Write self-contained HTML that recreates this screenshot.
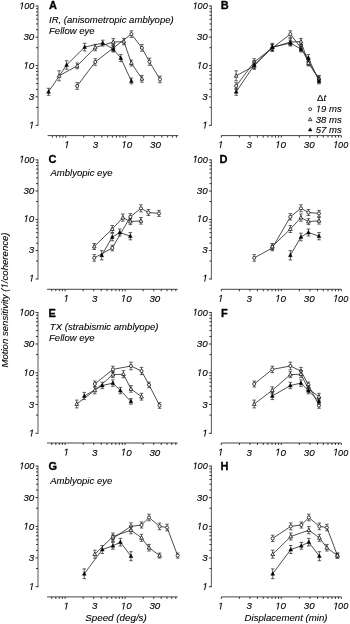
<!DOCTYPE html><html><head><meta charset="utf-8"><style>html,body{margin:0;padding:0;background:#fff}svg{display:block;will-change:transform}</style></head><body><svg width="350" height="624" viewBox="0 0 350 624">
<style>
.ax{stroke:#444;stroke-width:1;fill:none}
.axy{stroke:#666;stroke-width:1.1;fill:none}
.tk{stroke:#222;stroke-width:0.9}
.tl{font-family:"Liberation Sans",sans-serif;font-style:italic;font-size:9.8px;fill:#000;stroke:#000;stroke-width:0.1}
.tt{font-family:"Liberation Sans",sans-serif;font-style:italic;font-size:9.55px;fill:#000;stroke:#000;stroke-width:0.1}
.pl{font-family:"Liberation Sans",sans-serif;font-weight:bold;font-size:11px;fill:#000;stroke:#000;stroke-width:0.3}
.ln{stroke:#222;stroke-width:0.8;fill:none}
.eb{stroke:#222;stroke-width:0.7}
.mo{fill:#fff;stroke:#111;stroke-width:0.8}
.mf{fill:#000;stroke:#000;stroke-width:0.5}
.h1{fill:transparent;stroke:none}
.g1{fill:#000;stroke:#000;stroke-width:0.1;vector-effect:non-scaling-stroke}
</style>
<rect width="350" height="624" fill="#fff"/>
<line x1="38.0" y1="5.5" x2="38.0" y2="125.8" class="axy"/>
<line x1="35.5" y1="125.30" x2="38.0" y2="125.30" class="tk"/>
<line x1="36.0" y1="107.34" x2="38.0" y2="107.34" class="tk"/>
<line x1="35.5" y1="96.84" x2="38.0" y2="96.84" class="tk"/>
<line x1="36.0" y1="89.39" x2="38.0" y2="89.39" class="tk"/>
<line x1="36.0" y1="83.61" x2="38.0" y2="83.61" class="tk"/>
<line x1="36.0" y1="78.88" x2="38.0" y2="78.88" class="tk"/>
<line x1="36.0" y1="74.89" x2="38.0" y2="74.89" class="tk"/>
<line x1="36.0" y1="71.43" x2="38.0" y2="71.43" class="tk"/>
<line x1="36.0" y1="68.38" x2="38.0" y2="68.38" class="tk"/>
<line x1="35.5" y1="65.65" x2="38.0" y2="65.65" class="tk"/>
<line x1="36.0" y1="47.69" x2="38.0" y2="47.69" class="tk"/>
<line x1="35.5" y1="37.19" x2="38.0" y2="37.19" class="tk"/>
<line x1="36.0" y1="29.74" x2="38.0" y2="29.74" class="tk"/>
<line x1="36.0" y1="23.96" x2="38.0" y2="23.96" class="tk"/>
<line x1="36.0" y1="19.23" x2="38.0" y2="19.23" class="tk"/>
<line x1="36.0" y1="15.24" x2="38.0" y2="15.24" class="tk"/>
<line x1="36.0" y1="11.78" x2="38.0" y2="11.78" class="tk"/>
<line x1="36.0" y1="8.73" x2="38.0" y2="8.73" class="tk"/>
<line x1="35.5" y1="6.00" x2="38.0" y2="6.00" class="tk"/>
<text x="34.3" y="9.20" class="tl" text-anchor="end" textLength="15.2" lengthAdjust="spacingAndGlyphs"><tspan class="h1">1</tspan>00</text>
<text x="34.3" y="40.39" class="tl" text-anchor="end">30</text>
<text x="34.3" y="68.85" class="tl" text-anchor="end"><tspan class="h1">1</tspan>0</text>
<text x="34.3" y="100.04" class="tl" text-anchor="end">3</text>
<text x="34.3" y="128.50" class="tl" text-anchor="end"><tspan class="h1">1</tspan></text>
<line x1="211.4" y1="5.5" x2="211.4" y2="125.8" class="axy"/>
<line x1="208.9" y1="125.30" x2="211.4" y2="125.30" class="tk"/>
<line x1="209.4" y1="107.34" x2="211.4" y2="107.34" class="tk"/>
<line x1="208.9" y1="96.84" x2="211.4" y2="96.84" class="tk"/>
<line x1="209.4" y1="89.39" x2="211.4" y2="89.39" class="tk"/>
<line x1="209.4" y1="83.61" x2="211.4" y2="83.61" class="tk"/>
<line x1="209.4" y1="78.88" x2="211.4" y2="78.88" class="tk"/>
<line x1="209.4" y1="74.89" x2="211.4" y2="74.89" class="tk"/>
<line x1="209.4" y1="71.43" x2="211.4" y2="71.43" class="tk"/>
<line x1="209.4" y1="68.38" x2="211.4" y2="68.38" class="tk"/>
<line x1="208.9" y1="65.65" x2="211.4" y2="65.65" class="tk"/>
<line x1="209.4" y1="47.69" x2="211.4" y2="47.69" class="tk"/>
<line x1="208.9" y1="37.19" x2="211.4" y2="37.19" class="tk"/>
<line x1="209.4" y1="29.74" x2="211.4" y2="29.74" class="tk"/>
<line x1="209.4" y1="23.96" x2="211.4" y2="23.96" class="tk"/>
<line x1="209.4" y1="19.23" x2="211.4" y2="19.23" class="tk"/>
<line x1="209.4" y1="15.24" x2="211.4" y2="15.24" class="tk"/>
<line x1="209.4" y1="11.78" x2="211.4" y2="11.78" class="tk"/>
<line x1="209.4" y1="8.73" x2="211.4" y2="8.73" class="tk"/>
<line x1="208.9" y1="6.00" x2="211.4" y2="6.00" class="tk"/>
<text x="207.70000000000002" y="9.20" class="tl" text-anchor="end" textLength="15.2" lengthAdjust="spacingAndGlyphs"><tspan class="h1">1</tspan>00</text>
<text x="207.70000000000002" y="40.39" class="tl" text-anchor="end">30</text>
<text x="207.70000000000002" y="68.85" class="tl" text-anchor="end"><tspan class="h1">1</tspan>0</text>
<text x="207.70000000000002" y="100.04" class="tl" text-anchor="end">3</text>
<text x="207.70000000000002" y="128.50" class="tl" text-anchor="end"><tspan class="h1">1</tspan></text>
<line x1="47.64" y1="135.6" x2="178.20" y2="135.6" class="ax"/>
<line x1="52.39" y1="135.6" x2="52.39" y2="137.6" class="tk"/>
<line x1="56.41" y1="135.6" x2="56.41" y2="137.6" class="tk"/>
<line x1="59.89" y1="135.6" x2="59.89" y2="137.6" class="tk"/>
<line x1="62.95" y1="135.6" x2="62.95" y2="137.6" class="tk"/>
<line x1="65.70" y1="135.6" x2="65.70" y2="137.6" class="tk"/>
<line x1="83.76" y1="135.6" x2="83.76" y2="137.6" class="tk"/>
<line x1="94.33" y1="135.6" x2="94.33" y2="137.6" class="tk"/>
<line x1="101.82" y1="135.6" x2="101.82" y2="137.6" class="tk"/>
<line x1="107.64" y1="135.6" x2="107.64" y2="137.6" class="tk"/>
<line x1="112.39" y1="135.6" x2="112.39" y2="137.6" class="tk"/>
<line x1="116.41" y1="135.6" x2="116.41" y2="137.6" class="tk"/>
<line x1="119.89" y1="135.6" x2="119.89" y2="137.6" class="tk"/>
<line x1="122.95" y1="135.6" x2="122.95" y2="137.6" class="tk"/>
<line x1="125.70" y1="135.6" x2="125.70" y2="137.6" class="tk"/>
<line x1="143.76" y1="135.6" x2="143.76" y2="137.6" class="tk"/>
<line x1="154.33" y1="135.6" x2="154.33" y2="137.6" class="tk"/>
<line x1="161.82" y1="135.6" x2="161.82" y2="137.6" class="tk"/>
<line x1="167.64" y1="135.6" x2="167.64" y2="137.6" class="tk"/>
<line x1="172.39" y1="135.6" x2="172.39" y2="137.6" class="tk"/>
<line x1="176.41" y1="135.6" x2="176.41" y2="137.6" class="tk"/>
<text x="66.80" y="148.10" class="tl" text-anchor="middle"><tspan class="h1">1</tspan></text>
<text x="95.43" y="148.10" class="tl" text-anchor="middle">3</text>
<text x="126.80" y="148.10" class="tl" text-anchor="middle"><tspan class="h1">1</tspan>0</text>
<text x="155.43" y="148.10" class="tl" text-anchor="middle">30</text>
<line x1="221.30" y1="135.6" x2="341.30" y2="135.6" class="ax"/>
<line x1="221.30" y1="135.6" x2="221.30" y2="137.6" class="tk"/>
<line x1="239.36" y1="135.6" x2="239.36" y2="137.6" class="tk"/>
<line x1="249.93" y1="135.6" x2="249.93" y2="137.6" class="tk"/>
<line x1="257.42" y1="135.6" x2="257.42" y2="137.6" class="tk"/>
<line x1="263.24" y1="135.6" x2="263.24" y2="137.6" class="tk"/>
<line x1="267.99" y1="135.6" x2="267.99" y2="137.6" class="tk"/>
<line x1="272.01" y1="135.6" x2="272.01" y2="137.6" class="tk"/>
<line x1="275.49" y1="135.6" x2="275.49" y2="137.6" class="tk"/>
<line x1="278.55" y1="135.6" x2="278.55" y2="137.6" class="tk"/>
<line x1="281.30" y1="135.6" x2="281.30" y2="137.6" class="tk"/>
<line x1="299.36" y1="135.6" x2="299.36" y2="137.6" class="tk"/>
<line x1="309.93" y1="135.6" x2="309.93" y2="137.6" class="tk"/>
<line x1="317.42" y1="135.6" x2="317.42" y2="137.6" class="tk"/>
<line x1="323.24" y1="135.6" x2="323.24" y2="137.6" class="tk"/>
<line x1="327.99" y1="135.6" x2="327.99" y2="137.6" class="tk"/>
<line x1="332.01" y1="135.6" x2="332.01" y2="137.6" class="tk"/>
<line x1="335.49" y1="135.6" x2="335.49" y2="137.6" class="tk"/>
<line x1="338.55" y1="135.6" x2="338.55" y2="137.6" class="tk"/>
<line x1="341.30" y1="135.6" x2="341.30" y2="137.6" class="tk"/>
<text x="220.60" y="148.10" class="tl" text-anchor="middle"><tspan class="h1">1</tspan></text>
<text x="249.23" y="148.10" class="tl" text-anchor="middle">3</text>
<text x="280.60" y="148.10" class="tl" text-anchor="middle"><tspan class="h1">1</tspan>0</text>
<text x="309.23" y="148.10" class="tl" text-anchor="middle">30</text>
<text x="340.60" y="148.10" class="tl" text-anchor="middle" textLength="15.2" lengthAdjust="spacingAndGlyphs"><tspan class="h1">1</tspan>00</text>
<polyline points="48.54,91.80 66.60,65.00 84.66,47.10 102.72,43.10 113.29,49.00 120.78,58.10 131.35,81.00" class="ln"/>
<polyline points="59.10,75.80 77.16,65.90 95.23,47.50 113.29,42.00 123.85,41.60 131.35,63.00 141.91,78.80" class="ln"/>
<polyline points="77.16,86.00 95.23,62.00 113.29,48.00 131.35,34.10 141.91,47.90 149.41,61.70 159.98,79.40" class="ln"/>
<line x1="77.16" y1="82.70" x2="77.16" y2="89.30" class="eb"/>
<line x1="75.36" y1="82.70" x2="78.96" y2="82.70" class="eb"/>
<line x1="75.36" y1="89.30" x2="78.96" y2="89.30" class="eb"/>
<circle cx="77.16" cy="86.00" r="1.55" class="mo"/>
<line x1="95.23" y1="58.70" x2="95.23" y2="65.30" class="eb"/>
<line x1="93.43" y1="58.70" x2="97.03" y2="58.70" class="eb"/>
<line x1="93.43" y1="65.30" x2="97.03" y2="65.30" class="eb"/>
<circle cx="95.23" cy="62.00" r="1.55" class="mo"/>
<line x1="113.29" y1="44.70" x2="113.29" y2="51.30" class="eb"/>
<line x1="111.49" y1="44.70" x2="115.09" y2="44.70" class="eb"/>
<line x1="111.49" y1="51.30" x2="115.09" y2="51.30" class="eb"/>
<circle cx="113.29" cy="48.00" r="1.55" class="mo"/>
<line x1="131.35" y1="30.80" x2="131.35" y2="37.40" class="eb"/>
<line x1="129.55" y1="30.80" x2="133.15" y2="30.80" class="eb"/>
<line x1="129.55" y1="37.40" x2="133.15" y2="37.40" class="eb"/>
<circle cx="131.35" cy="34.10" r="1.55" class="mo"/>
<line x1="141.91" y1="44.60" x2="141.91" y2="51.20" class="eb"/>
<line x1="140.11" y1="44.60" x2="143.71" y2="44.60" class="eb"/>
<line x1="140.11" y1="51.20" x2="143.71" y2="51.20" class="eb"/>
<circle cx="141.91" cy="47.90" r="1.55" class="mo"/>
<line x1="149.41" y1="58.10" x2="149.41" y2="65.30" class="eb"/>
<line x1="147.61" y1="58.10" x2="151.21" y2="58.10" class="eb"/>
<line x1="147.61" y1="65.30" x2="151.21" y2="65.30" class="eb"/>
<circle cx="149.41" cy="61.70" r="1.55" class="mo"/>
<line x1="159.98" y1="76.10" x2="159.98" y2="82.70" class="eb"/>
<line x1="158.18" y1="76.10" x2="161.78" y2="76.10" class="eb"/>
<line x1="158.18" y1="82.70" x2="161.78" y2="82.70" class="eb"/>
<circle cx="159.98" cy="79.40" r="1.55" class="mo"/>
<line x1="59.10" y1="70.80" x2="59.10" y2="80.80" class="eb"/>
<line x1="57.30" y1="70.80" x2="60.90" y2="70.80" class="eb"/>
<line x1="57.30" y1="80.80" x2="60.90" y2="80.80" class="eb"/>
<polygon points="59.10,73.70 57.25,77.20 60.95,77.20" class="mo"/>
<line x1="77.16" y1="63.00" x2="77.16" y2="68.80" class="eb"/>
<line x1="75.36" y1="63.00" x2="78.96" y2="63.00" class="eb"/>
<line x1="75.36" y1="68.80" x2="78.96" y2="68.80" class="eb"/>
<polygon points="77.16,63.80 75.31,67.30 79.01,67.30" class="mo"/>
<line x1="95.23" y1="44.30" x2="95.23" y2="50.70" class="eb"/>
<line x1="93.43" y1="44.30" x2="97.03" y2="44.30" class="eb"/>
<line x1="93.43" y1="50.70" x2="97.03" y2="50.70" class="eb"/>
<polygon points="95.23,45.40 93.38,48.90 97.08,48.90" class="mo"/>
<line x1="113.29" y1="38.60" x2="113.29" y2="45.40" class="eb"/>
<line x1="111.49" y1="38.60" x2="115.09" y2="38.60" class="eb"/>
<line x1="111.49" y1="45.40" x2="115.09" y2="45.40" class="eb"/>
<polygon points="113.29,39.90 111.44,43.40 115.14,43.40" class="mo"/>
<line x1="123.85" y1="38.40" x2="123.85" y2="44.80" class="eb"/>
<line x1="122.05" y1="38.40" x2="125.65" y2="38.40" class="eb"/>
<line x1="122.05" y1="44.80" x2="125.65" y2="44.80" class="eb"/>
<polygon points="123.85,39.50 122.00,43.00 125.70,43.00" class="mo"/>
<line x1="131.35" y1="60.10" x2="131.35" y2="65.90" class="eb"/>
<line x1="129.55" y1="60.10" x2="133.15" y2="60.10" class="eb"/>
<line x1="129.55" y1="65.90" x2="133.15" y2="65.90" class="eb"/>
<polygon points="131.35,60.90 129.50,64.40 133.20,64.40" class="mo"/>
<line x1="141.91" y1="75.40" x2="141.91" y2="82.20" class="eb"/>
<line x1="140.11" y1="75.40" x2="143.71" y2="75.40" class="eb"/>
<line x1="140.11" y1="82.20" x2="143.71" y2="82.20" class="eb"/>
<polygon points="141.91,76.70 140.06,80.20 143.76,80.20" class="mo"/>
<line x1="48.54" y1="88.30" x2="48.54" y2="95.30" class="eb"/>
<line x1="46.74" y1="88.30" x2="50.34" y2="88.30" class="eb"/>
<line x1="46.74" y1="95.30" x2="50.34" y2="95.30" class="eb"/>
<polygon points="48.54,89.70 46.69,93.20 50.39,93.20" class="mf"/>
<line x1="66.60" y1="60.80" x2="66.60" y2="69.20" class="eb"/>
<line x1="64.80" y1="60.80" x2="68.40" y2="60.80" class="eb"/>
<line x1="64.80" y1="69.20" x2="68.40" y2="69.20" class="eb"/>
<polygon points="66.60,62.90 64.75,66.40 68.45,66.40" class="mf"/>
<line x1="84.66" y1="43.30" x2="84.66" y2="50.90" class="eb"/>
<line x1="82.86" y1="43.30" x2="86.46" y2="43.30" class="eb"/>
<line x1="82.86" y1="50.90" x2="86.46" y2="50.90" class="eb"/>
<polygon points="84.66,45.00 82.81,48.50 86.51,48.50" class="mf"/>
<line x1="102.72" y1="40.20" x2="102.72" y2="46.00" class="eb"/>
<line x1="100.92" y1="40.20" x2="104.52" y2="40.20" class="eb"/>
<line x1="100.92" y1="46.00" x2="104.52" y2="46.00" class="eb"/>
<polygon points="102.72,41.00 100.87,44.50 104.57,44.50" class="mf"/>
<line x1="113.29" y1="46.00" x2="113.29" y2="52.00" class="eb"/>
<line x1="111.49" y1="46.00" x2="115.09" y2="46.00" class="eb"/>
<line x1="111.49" y1="52.00" x2="115.09" y2="52.00" class="eb"/>
<polygon points="113.29,46.90 111.44,50.40 115.14,50.40" class="mf"/>
<line x1="120.78" y1="54.60" x2="120.78" y2="61.60" class="eb"/>
<line x1="118.98" y1="54.60" x2="122.58" y2="54.60" class="eb"/>
<line x1="118.98" y1="61.60" x2="122.58" y2="61.60" class="eb"/>
<polygon points="120.78,56.00 118.93,59.50 122.63,59.50" class="mf"/>
<line x1="131.35" y1="78.10" x2="131.35" y2="83.90" class="eb"/>
<line x1="129.55" y1="78.10" x2="133.15" y2="78.10" class="eb"/>
<line x1="129.55" y1="83.90" x2="133.15" y2="83.90" class="eb"/>
<polygon points="131.35,78.90 129.50,82.40 133.20,82.40" class="mf"/>
<polyline points="236.18,91.80 254.24,65.00 272.30,47.10 290.36,43.10 300.93,49.00 308.43,58.10 318.99,81.00" class="ln"/>
<polyline points="236.18,75.80 254.24,65.90 272.30,47.50 290.36,42.00 300.93,41.60 308.43,63.00 318.99,78.80" class="ln"/>
<polyline points="236.18,86.00 254.24,62.00 272.30,48.00 290.36,34.10 300.93,47.90 308.43,61.70 318.99,79.40" class="ln"/>
<line x1="236.18" y1="82.70" x2="236.18" y2="89.30" class="eb"/>
<line x1="234.38" y1="82.70" x2="237.98" y2="82.70" class="eb"/>
<line x1="234.38" y1="89.30" x2="237.98" y2="89.30" class="eb"/>
<circle cx="236.18" cy="86.00" r="1.55" class="mo"/>
<line x1="254.24" y1="58.70" x2="254.24" y2="65.30" class="eb"/>
<line x1="252.44" y1="58.70" x2="256.04" y2="58.70" class="eb"/>
<line x1="252.44" y1="65.30" x2="256.04" y2="65.30" class="eb"/>
<circle cx="254.24" cy="62.00" r="1.55" class="mo"/>
<line x1="272.30" y1="44.70" x2="272.30" y2="51.30" class="eb"/>
<line x1="270.50" y1="44.70" x2="274.10" y2="44.70" class="eb"/>
<line x1="270.50" y1="51.30" x2="274.10" y2="51.30" class="eb"/>
<circle cx="272.30" cy="48.00" r="1.55" class="mo"/>
<line x1="290.36" y1="30.80" x2="290.36" y2="37.40" class="eb"/>
<line x1="288.56" y1="30.80" x2="292.16" y2="30.80" class="eb"/>
<line x1="288.56" y1="37.40" x2="292.16" y2="37.40" class="eb"/>
<circle cx="290.36" cy="34.10" r="1.55" class="mo"/>
<line x1="300.93" y1="44.60" x2="300.93" y2="51.20" class="eb"/>
<line x1="299.13" y1="44.60" x2="302.73" y2="44.60" class="eb"/>
<line x1="299.13" y1="51.20" x2="302.73" y2="51.20" class="eb"/>
<circle cx="300.93" cy="47.90" r="1.55" class="mo"/>
<line x1="308.43" y1="58.10" x2="308.43" y2="65.30" class="eb"/>
<line x1="306.63" y1="58.10" x2="310.23" y2="58.10" class="eb"/>
<line x1="306.63" y1="65.30" x2="310.23" y2="65.30" class="eb"/>
<circle cx="308.43" cy="61.70" r="1.55" class="mo"/>
<line x1="318.99" y1="76.10" x2="318.99" y2="82.70" class="eb"/>
<line x1="317.19" y1="76.10" x2="320.79" y2="76.10" class="eb"/>
<line x1="317.19" y1="82.70" x2="320.79" y2="82.70" class="eb"/>
<circle cx="318.99" cy="79.40" r="1.55" class="mo"/>
<line x1="236.18" y1="70.80" x2="236.18" y2="80.80" class="eb"/>
<line x1="234.38" y1="70.80" x2="237.98" y2="70.80" class="eb"/>
<line x1="234.38" y1="80.80" x2="237.98" y2="80.80" class="eb"/>
<polygon points="236.18,73.70 234.33,77.20 238.03,77.20" class="mo"/>
<line x1="254.24" y1="63.00" x2="254.24" y2="68.80" class="eb"/>
<line x1="252.44" y1="63.00" x2="256.04" y2="63.00" class="eb"/>
<line x1="252.44" y1="68.80" x2="256.04" y2="68.80" class="eb"/>
<polygon points="254.24,63.80 252.39,67.30 256.09,67.30" class="mo"/>
<line x1="272.30" y1="44.30" x2="272.30" y2="50.70" class="eb"/>
<line x1="270.50" y1="44.30" x2="274.10" y2="44.30" class="eb"/>
<line x1="270.50" y1="50.70" x2="274.10" y2="50.70" class="eb"/>
<polygon points="272.30,45.40 270.45,48.90 274.15,48.90" class="mo"/>
<line x1="290.36" y1="38.60" x2="290.36" y2="45.40" class="eb"/>
<line x1="288.56" y1="38.60" x2="292.16" y2="38.60" class="eb"/>
<line x1="288.56" y1="45.40" x2="292.16" y2="45.40" class="eb"/>
<polygon points="290.36,39.90 288.51,43.40 292.21,43.40" class="mo"/>
<line x1="300.93" y1="38.40" x2="300.93" y2="44.80" class="eb"/>
<line x1="299.13" y1="38.40" x2="302.73" y2="38.40" class="eb"/>
<line x1="299.13" y1="44.80" x2="302.73" y2="44.80" class="eb"/>
<polygon points="300.93,39.50 299.08,43.00 302.78,43.00" class="mo"/>
<line x1="308.43" y1="60.10" x2="308.43" y2="65.90" class="eb"/>
<line x1="306.63" y1="60.10" x2="310.23" y2="60.10" class="eb"/>
<line x1="306.63" y1="65.90" x2="310.23" y2="65.90" class="eb"/>
<polygon points="308.43,60.90 306.58,64.40 310.28,64.40" class="mo"/>
<line x1="318.99" y1="75.40" x2="318.99" y2="82.20" class="eb"/>
<line x1="317.19" y1="75.40" x2="320.79" y2="75.40" class="eb"/>
<line x1="317.19" y1="82.20" x2="320.79" y2="82.20" class="eb"/>
<polygon points="318.99,76.70 317.14,80.20 320.84,80.20" class="mo"/>
<line x1="236.18" y1="88.30" x2="236.18" y2="95.30" class="eb"/>
<line x1="234.38" y1="88.30" x2="237.98" y2="88.30" class="eb"/>
<line x1="234.38" y1="95.30" x2="237.98" y2="95.30" class="eb"/>
<polygon points="236.18,89.70 234.33,93.20 238.03,93.20" class="mf"/>
<line x1="254.24" y1="60.80" x2="254.24" y2="69.20" class="eb"/>
<line x1="252.44" y1="60.80" x2="256.04" y2="60.80" class="eb"/>
<line x1="252.44" y1="69.20" x2="256.04" y2="69.20" class="eb"/>
<polygon points="254.24,62.90 252.39,66.40 256.09,66.40" class="mf"/>
<line x1="272.30" y1="43.30" x2="272.30" y2="50.90" class="eb"/>
<line x1="270.50" y1="43.30" x2="274.10" y2="43.30" class="eb"/>
<line x1="270.50" y1="50.90" x2="274.10" y2="50.90" class="eb"/>
<polygon points="272.30,45.00 270.45,48.50 274.15,48.50" class="mf"/>
<line x1="290.36" y1="40.20" x2="290.36" y2="46.00" class="eb"/>
<line x1="288.56" y1="40.20" x2="292.16" y2="40.20" class="eb"/>
<line x1="288.56" y1="46.00" x2="292.16" y2="46.00" class="eb"/>
<polygon points="290.36,41.00 288.51,44.50 292.21,44.50" class="mf"/>
<line x1="300.93" y1="46.00" x2="300.93" y2="52.00" class="eb"/>
<line x1="299.13" y1="46.00" x2="302.73" y2="46.00" class="eb"/>
<line x1="299.13" y1="52.00" x2="302.73" y2="52.00" class="eb"/>
<polygon points="300.93,46.90 299.08,50.40 302.78,50.40" class="mf"/>
<line x1="308.43" y1="54.60" x2="308.43" y2="61.60" class="eb"/>
<line x1="306.63" y1="54.60" x2="310.23" y2="54.60" class="eb"/>
<line x1="306.63" y1="61.60" x2="310.23" y2="61.60" class="eb"/>
<polygon points="308.43,56.00 306.58,59.50 310.28,59.50" class="mf"/>
<line x1="318.99" y1="78.10" x2="318.99" y2="83.90" class="eb"/>
<line x1="317.19" y1="78.10" x2="320.79" y2="78.10" class="eb"/>
<line x1="317.19" y1="83.90" x2="320.79" y2="83.90" class="eb"/>
<polygon points="318.99,78.90 317.14,82.40 320.84,82.40" class="mf"/>
<line x1="38.0" y1="159.4" x2="38.0" y2="279.5" class="axy"/>
<line x1="35.5" y1="279.00" x2="38.0" y2="279.00" class="tk"/>
<line x1="36.0" y1="261.07" x2="38.0" y2="261.07" class="tk"/>
<line x1="35.5" y1="250.59" x2="38.0" y2="250.59" class="tk"/>
<line x1="36.0" y1="243.15" x2="38.0" y2="243.15" class="tk"/>
<line x1="36.0" y1="237.38" x2="38.0" y2="237.38" class="tk"/>
<line x1="36.0" y1="232.66" x2="38.0" y2="232.66" class="tk"/>
<line x1="36.0" y1="228.67" x2="38.0" y2="228.67" class="tk"/>
<line x1="36.0" y1="225.22" x2="38.0" y2="225.22" class="tk"/>
<line x1="36.0" y1="222.17" x2="38.0" y2="222.17" class="tk"/>
<line x1="35.5" y1="219.45" x2="38.0" y2="219.45" class="tk"/>
<line x1="36.0" y1="201.52" x2="38.0" y2="201.52" class="tk"/>
<line x1="35.5" y1="191.04" x2="38.0" y2="191.04" class="tk"/>
<line x1="36.0" y1="183.60" x2="38.0" y2="183.60" class="tk"/>
<line x1="36.0" y1="177.83" x2="38.0" y2="177.83" class="tk"/>
<line x1="36.0" y1="173.11" x2="38.0" y2="173.11" class="tk"/>
<line x1="36.0" y1="169.12" x2="38.0" y2="169.12" class="tk"/>
<line x1="36.0" y1="165.67" x2="38.0" y2="165.67" class="tk"/>
<line x1="36.0" y1="162.62" x2="38.0" y2="162.62" class="tk"/>
<line x1="35.5" y1="159.90" x2="38.0" y2="159.90" class="tk"/>
<text x="34.3" y="162.50" class="tl" text-anchor="end" textLength="15.2" lengthAdjust="spacingAndGlyphs"><tspan class="h1">1</tspan>00</text>
<text x="34.3" y="193.64" class="tl" text-anchor="end">30</text>
<text x="34.3" y="222.05" class="tl" text-anchor="end"><tspan class="h1">1</tspan>0</text>
<text x="34.3" y="253.19" class="tl" text-anchor="end">3</text>
<text x="34.3" y="281.60" class="tl" text-anchor="end"><tspan class="h1">1</tspan></text>
<line x1="211.4" y1="159.4" x2="211.4" y2="279.5" class="axy"/>
<line x1="208.9" y1="279.00" x2="211.4" y2="279.00" class="tk"/>
<line x1="209.4" y1="261.07" x2="211.4" y2="261.07" class="tk"/>
<line x1="208.9" y1="250.59" x2="211.4" y2="250.59" class="tk"/>
<line x1="209.4" y1="243.15" x2="211.4" y2="243.15" class="tk"/>
<line x1="209.4" y1="237.38" x2="211.4" y2="237.38" class="tk"/>
<line x1="209.4" y1="232.66" x2="211.4" y2="232.66" class="tk"/>
<line x1="209.4" y1="228.67" x2="211.4" y2="228.67" class="tk"/>
<line x1="209.4" y1="225.22" x2="211.4" y2="225.22" class="tk"/>
<line x1="209.4" y1="222.17" x2="211.4" y2="222.17" class="tk"/>
<line x1="208.9" y1="219.45" x2="211.4" y2="219.45" class="tk"/>
<line x1="209.4" y1="201.52" x2="211.4" y2="201.52" class="tk"/>
<line x1="208.9" y1="191.04" x2="211.4" y2="191.04" class="tk"/>
<line x1="209.4" y1="183.60" x2="211.4" y2="183.60" class="tk"/>
<line x1="209.4" y1="177.83" x2="211.4" y2="177.83" class="tk"/>
<line x1="209.4" y1="173.11" x2="211.4" y2="173.11" class="tk"/>
<line x1="209.4" y1="169.12" x2="211.4" y2="169.12" class="tk"/>
<line x1="209.4" y1="165.67" x2="211.4" y2="165.67" class="tk"/>
<line x1="209.4" y1="162.62" x2="211.4" y2="162.62" class="tk"/>
<line x1="208.9" y1="159.90" x2="211.4" y2="159.90" class="tk"/>
<text x="207.70000000000002" y="162.50" class="tl" text-anchor="end" textLength="15.2" lengthAdjust="spacingAndGlyphs"><tspan class="h1">1</tspan>00</text>
<text x="207.70000000000002" y="193.64" class="tl" text-anchor="end">30</text>
<text x="207.70000000000002" y="222.05" class="tl" text-anchor="end"><tspan class="h1">1</tspan>0</text>
<text x="207.70000000000002" y="253.19" class="tl" text-anchor="end">3</text>
<text x="207.70000000000002" y="281.60" class="tl" text-anchor="end"><tspan class="h1">1</tspan></text>
<line x1="47.04" y1="289.3" x2="177.60" y2="289.3" class="ax"/>
<line x1="51.79" y1="289.3" x2="51.79" y2="291.3" class="tk"/>
<line x1="55.81" y1="289.3" x2="55.81" y2="291.3" class="tk"/>
<line x1="59.29" y1="289.3" x2="59.29" y2="291.3" class="tk"/>
<line x1="62.35" y1="289.3" x2="62.35" y2="291.3" class="tk"/>
<line x1="65.10" y1="289.3" x2="65.10" y2="291.3" class="tk"/>
<line x1="83.16" y1="289.3" x2="83.16" y2="291.3" class="tk"/>
<line x1="93.73" y1="289.3" x2="93.73" y2="291.3" class="tk"/>
<line x1="101.22" y1="289.3" x2="101.22" y2="291.3" class="tk"/>
<line x1="107.04" y1="289.3" x2="107.04" y2="291.3" class="tk"/>
<line x1="111.79" y1="289.3" x2="111.79" y2="291.3" class="tk"/>
<line x1="115.81" y1="289.3" x2="115.81" y2="291.3" class="tk"/>
<line x1="119.29" y1="289.3" x2="119.29" y2="291.3" class="tk"/>
<line x1="122.35" y1="289.3" x2="122.35" y2="291.3" class="tk"/>
<line x1="125.10" y1="289.3" x2="125.10" y2="291.3" class="tk"/>
<line x1="143.16" y1="289.3" x2="143.16" y2="291.3" class="tk"/>
<line x1="153.73" y1="289.3" x2="153.73" y2="291.3" class="tk"/>
<line x1="161.22" y1="289.3" x2="161.22" y2="291.3" class="tk"/>
<line x1="167.04" y1="289.3" x2="167.04" y2="291.3" class="tk"/>
<line x1="171.79" y1="289.3" x2="171.79" y2="291.3" class="tk"/>
<line x1="175.81" y1="289.3" x2="175.81" y2="291.3" class="tk"/>
<text x="66.20" y="301.80" class="tl" text-anchor="middle"><tspan class="h1">1</tspan></text>
<text x="94.83" y="301.80" class="tl" text-anchor="middle">3</text>
<text x="126.20" y="301.80" class="tl" text-anchor="middle"><tspan class="h1">1</tspan>0</text>
<text x="154.83" y="301.80" class="tl" text-anchor="middle">30</text>
<line x1="221.30" y1="289.3" x2="341.30" y2="289.3" class="ax"/>
<line x1="221.30" y1="289.3" x2="221.30" y2="291.3" class="tk"/>
<line x1="239.36" y1="289.3" x2="239.36" y2="291.3" class="tk"/>
<line x1="249.93" y1="289.3" x2="249.93" y2="291.3" class="tk"/>
<line x1="257.42" y1="289.3" x2="257.42" y2="291.3" class="tk"/>
<line x1="263.24" y1="289.3" x2="263.24" y2="291.3" class="tk"/>
<line x1="267.99" y1="289.3" x2="267.99" y2="291.3" class="tk"/>
<line x1="272.01" y1="289.3" x2="272.01" y2="291.3" class="tk"/>
<line x1="275.49" y1="289.3" x2="275.49" y2="291.3" class="tk"/>
<line x1="278.55" y1="289.3" x2="278.55" y2="291.3" class="tk"/>
<line x1="281.30" y1="289.3" x2="281.30" y2="291.3" class="tk"/>
<line x1="299.36" y1="289.3" x2="299.36" y2="291.3" class="tk"/>
<line x1="309.93" y1="289.3" x2="309.93" y2="291.3" class="tk"/>
<line x1="317.42" y1="289.3" x2="317.42" y2="291.3" class="tk"/>
<line x1="323.24" y1="289.3" x2="323.24" y2="291.3" class="tk"/>
<line x1="327.99" y1="289.3" x2="327.99" y2="291.3" class="tk"/>
<line x1="332.01" y1="289.3" x2="332.01" y2="291.3" class="tk"/>
<line x1="335.49" y1="289.3" x2="335.49" y2="291.3" class="tk"/>
<line x1="338.55" y1="289.3" x2="338.55" y2="291.3" class="tk"/>
<line x1="341.30" y1="289.3" x2="341.30" y2="291.3" class="tk"/>
<text x="220.60" y="301.80" class="tl" text-anchor="middle"><tspan class="h1">1</tspan></text>
<text x="249.23" y="301.80" class="tl" text-anchor="middle">3</text>
<text x="280.60" y="301.80" class="tl" text-anchor="middle"><tspan class="h1">1</tspan>0</text>
<text x="309.23" y="301.80" class="tl" text-anchor="middle">30</text>
<text x="340.60" y="301.80" class="tl" text-anchor="middle" textLength="15.2" lengthAdjust="spacingAndGlyphs"><tspan class="h1">1</tspan>00</text>
<polyline points="101.72,255.30 112.29,237.00 119.78,232.50 130.35,236.20" class="ln"/>
<polyline points="94.23,246.50 112.29,229.00 122.85,217.60 130.35,221.60 140.91,220.80" class="ln"/>
<polyline points="94.23,257.90 112.29,248.00 130.35,216.80 140.91,208.30 148.41,212.50 158.98,213.40" class="ln"/>
<line x1="94.23" y1="254.60" x2="94.23" y2="261.20" class="eb"/>
<line x1="92.43" y1="254.60" x2="96.03" y2="254.60" class="eb"/>
<line x1="92.43" y1="261.20" x2="96.03" y2="261.20" class="eb"/>
<circle cx="94.23" cy="257.90" r="1.55" class="mo"/>
<line x1="112.29" y1="245.20" x2="112.29" y2="250.80" class="eb"/>
<line x1="110.49" y1="245.20" x2="114.09" y2="245.20" class="eb"/>
<line x1="110.49" y1="250.80" x2="114.09" y2="250.80" class="eb"/>
<circle cx="112.29" cy="248.00" r="1.55" class="mo"/>
<line x1="130.35" y1="213.60" x2="130.35" y2="220.00" class="eb"/>
<line x1="128.55" y1="213.60" x2="132.15" y2="213.60" class="eb"/>
<line x1="128.55" y1="220.00" x2="132.15" y2="220.00" class="eb"/>
<circle cx="130.35" cy="216.80" r="1.55" class="mo"/>
<line x1="140.91" y1="204.80" x2="140.91" y2="211.80" class="eb"/>
<line x1="139.11" y1="204.80" x2="142.71" y2="204.80" class="eb"/>
<line x1="139.11" y1="211.80" x2="142.71" y2="211.80" class="eb"/>
<circle cx="140.91" cy="208.30" r="1.55" class="mo"/>
<line x1="148.41" y1="209.50" x2="148.41" y2="215.50" class="eb"/>
<line x1="146.61" y1="209.50" x2="150.21" y2="209.50" class="eb"/>
<line x1="146.61" y1="215.50" x2="150.21" y2="215.50" class="eb"/>
<circle cx="148.41" cy="212.50" r="1.55" class="mo"/>
<line x1="158.98" y1="210.40" x2="158.98" y2="216.40" class="eb"/>
<line x1="157.18" y1="210.40" x2="160.78" y2="210.40" class="eb"/>
<line x1="157.18" y1="216.40" x2="160.78" y2="216.40" class="eb"/>
<circle cx="158.98" cy="213.40" r="1.55" class="mo"/>
<line x1="94.23" y1="243.50" x2="94.23" y2="249.50" class="eb"/>
<line x1="92.43" y1="243.50" x2="96.03" y2="243.50" class="eb"/>
<line x1="92.43" y1="249.50" x2="96.03" y2="249.50" class="eb"/>
<polygon points="94.23,244.40 92.38,247.90 96.08,247.90" class="mo"/>
<line x1="112.29" y1="225.50" x2="112.29" y2="232.50" class="eb"/>
<line x1="110.49" y1="225.50" x2="114.09" y2="225.50" class="eb"/>
<line x1="110.49" y1="232.50" x2="114.09" y2="232.50" class="eb"/>
<polygon points="112.29,226.90 110.44,230.40 114.14,230.40" class="mo"/>
<line x1="122.85" y1="214.00" x2="122.85" y2="221.20" class="eb"/>
<line x1="121.05" y1="214.00" x2="124.65" y2="214.00" class="eb"/>
<line x1="121.05" y1="221.20" x2="124.65" y2="221.20" class="eb"/>
<polygon points="122.85,215.50 121.00,219.00 124.70,219.00" class="mo"/>
<line x1="130.35" y1="218.60" x2="130.35" y2="224.60" class="eb"/>
<line x1="128.55" y1="218.60" x2="132.15" y2="218.60" class="eb"/>
<line x1="128.55" y1="224.60" x2="132.15" y2="224.60" class="eb"/>
<polygon points="130.35,219.50 128.50,223.00 132.20,223.00" class="mo"/>
<line x1="140.91" y1="217.50" x2="140.91" y2="224.10" class="eb"/>
<line x1="139.11" y1="217.50" x2="142.71" y2="217.50" class="eb"/>
<line x1="139.11" y1="224.10" x2="142.71" y2="224.10" class="eb"/>
<polygon points="140.91,218.70 139.06,222.20 142.76,222.20" class="mo"/>
<line x1="101.72" y1="250.70" x2="101.72" y2="259.90" class="eb"/>
<line x1="99.92" y1="250.70" x2="103.52" y2="250.70" class="eb"/>
<line x1="99.92" y1="259.90" x2="103.52" y2="259.90" class="eb"/>
<polygon points="101.72,253.20 99.87,256.70 103.57,256.70" class="mf"/>
<line x1="112.29" y1="233.20" x2="112.29" y2="240.80" class="eb"/>
<line x1="110.49" y1="233.20" x2="114.09" y2="233.20" class="eb"/>
<line x1="110.49" y1="240.80" x2="114.09" y2="240.80" class="eb"/>
<polygon points="112.29,234.90 110.44,238.40 114.14,238.40" class="mf"/>
<line x1="119.78" y1="229.00" x2="119.78" y2="236.00" class="eb"/>
<line x1="117.98" y1="229.00" x2="121.58" y2="229.00" class="eb"/>
<line x1="117.98" y1="236.00" x2="121.58" y2="236.00" class="eb"/>
<polygon points="119.78,230.40 117.93,233.90 121.63,233.90" class="mf"/>
<line x1="130.35" y1="232.60" x2="130.35" y2="239.80" class="eb"/>
<line x1="128.55" y1="232.60" x2="132.15" y2="232.60" class="eb"/>
<line x1="128.55" y1="239.80" x2="132.15" y2="239.80" class="eb"/>
<polygon points="130.35,234.10 128.50,237.60 132.20,237.60" class="mf"/>
<polyline points="290.36,255.30 300.93,237.00 308.43,232.50 318.99,236.20" class="ln"/>
<polyline points="272.30,246.50 290.36,229.00 300.93,217.60 308.43,221.60 318.99,220.80" class="ln"/>
<polyline points="254.24,257.90 272.30,248.00 290.36,216.80 300.93,208.30 308.43,212.50 318.99,213.40" class="ln"/>
<line x1="254.24" y1="254.60" x2="254.24" y2="261.20" class="eb"/>
<line x1="252.44" y1="254.60" x2="256.04" y2="254.60" class="eb"/>
<line x1="252.44" y1="261.20" x2="256.04" y2="261.20" class="eb"/>
<circle cx="254.24" cy="257.90" r="1.55" class="mo"/>
<line x1="272.30" y1="245.20" x2="272.30" y2="250.80" class="eb"/>
<line x1="270.50" y1="245.20" x2="274.10" y2="245.20" class="eb"/>
<line x1="270.50" y1="250.80" x2="274.10" y2="250.80" class="eb"/>
<circle cx="272.30" cy="248.00" r="1.55" class="mo"/>
<line x1="290.36" y1="213.60" x2="290.36" y2="220.00" class="eb"/>
<line x1="288.56" y1="213.60" x2="292.16" y2="213.60" class="eb"/>
<line x1="288.56" y1="220.00" x2="292.16" y2="220.00" class="eb"/>
<circle cx="290.36" cy="216.80" r="1.55" class="mo"/>
<line x1="300.93" y1="204.80" x2="300.93" y2="211.80" class="eb"/>
<line x1="299.13" y1="204.80" x2="302.73" y2="204.80" class="eb"/>
<line x1="299.13" y1="211.80" x2="302.73" y2="211.80" class="eb"/>
<circle cx="300.93" cy="208.30" r="1.55" class="mo"/>
<line x1="308.43" y1="209.50" x2="308.43" y2="215.50" class="eb"/>
<line x1="306.63" y1="209.50" x2="310.23" y2="209.50" class="eb"/>
<line x1="306.63" y1="215.50" x2="310.23" y2="215.50" class="eb"/>
<circle cx="308.43" cy="212.50" r="1.55" class="mo"/>
<line x1="318.99" y1="210.40" x2="318.99" y2="216.40" class="eb"/>
<line x1="317.19" y1="210.40" x2="320.79" y2="210.40" class="eb"/>
<line x1="317.19" y1="216.40" x2="320.79" y2="216.40" class="eb"/>
<circle cx="318.99" cy="213.40" r="1.55" class="mo"/>
<line x1="272.30" y1="243.50" x2="272.30" y2="249.50" class="eb"/>
<line x1="270.50" y1="243.50" x2="274.10" y2="243.50" class="eb"/>
<line x1="270.50" y1="249.50" x2="274.10" y2="249.50" class="eb"/>
<polygon points="272.30,244.40 270.45,247.90 274.15,247.90" class="mo"/>
<line x1="290.36" y1="225.50" x2="290.36" y2="232.50" class="eb"/>
<line x1="288.56" y1="225.50" x2="292.16" y2="225.50" class="eb"/>
<line x1="288.56" y1="232.50" x2="292.16" y2="232.50" class="eb"/>
<polygon points="290.36,226.90 288.51,230.40 292.21,230.40" class="mo"/>
<line x1="300.93" y1="214.00" x2="300.93" y2="221.20" class="eb"/>
<line x1="299.13" y1="214.00" x2="302.73" y2="214.00" class="eb"/>
<line x1="299.13" y1="221.20" x2="302.73" y2="221.20" class="eb"/>
<polygon points="300.93,215.50 299.08,219.00 302.78,219.00" class="mo"/>
<line x1="308.43" y1="218.60" x2="308.43" y2="224.60" class="eb"/>
<line x1="306.63" y1="218.60" x2="310.23" y2="218.60" class="eb"/>
<line x1="306.63" y1="224.60" x2="310.23" y2="224.60" class="eb"/>
<polygon points="308.43,219.50 306.58,223.00 310.28,223.00" class="mo"/>
<line x1="318.99" y1="217.50" x2="318.99" y2="224.10" class="eb"/>
<line x1="317.19" y1="217.50" x2="320.79" y2="217.50" class="eb"/>
<line x1="317.19" y1="224.10" x2="320.79" y2="224.10" class="eb"/>
<polygon points="318.99,218.70 317.14,222.20 320.84,222.20" class="mo"/>
<line x1="290.36" y1="250.70" x2="290.36" y2="259.90" class="eb"/>
<line x1="288.56" y1="250.70" x2="292.16" y2="250.70" class="eb"/>
<line x1="288.56" y1="259.90" x2="292.16" y2="259.90" class="eb"/>
<polygon points="290.36,253.20 288.51,256.70 292.21,256.70" class="mf"/>
<line x1="300.93" y1="233.20" x2="300.93" y2="240.80" class="eb"/>
<line x1="299.13" y1="233.20" x2="302.73" y2="233.20" class="eb"/>
<line x1="299.13" y1="240.80" x2="302.73" y2="240.80" class="eb"/>
<polygon points="300.93,234.90 299.08,238.40 302.78,238.40" class="mf"/>
<line x1="308.43" y1="229.00" x2="308.43" y2="236.00" class="eb"/>
<line x1="306.63" y1="229.00" x2="310.23" y2="229.00" class="eb"/>
<line x1="306.63" y1="236.00" x2="310.23" y2="236.00" class="eb"/>
<polygon points="308.43,230.40 306.58,233.90 310.28,233.90" class="mf"/>
<line x1="318.99" y1="232.60" x2="318.99" y2="239.80" class="eb"/>
<line x1="317.19" y1="232.60" x2="320.79" y2="232.60" class="eb"/>
<line x1="317.19" y1="239.80" x2="320.79" y2="239.80" class="eb"/>
<polygon points="318.99,234.10 317.14,237.60 320.84,237.60" class="mf"/>
<line x1="38.0" y1="311.9" x2="38.0" y2="433.8" class="axy"/>
<line x1="35.5" y1="433.30" x2="38.0" y2="433.30" class="tk"/>
<line x1="36.0" y1="415.10" x2="38.0" y2="415.10" class="tk"/>
<line x1="35.5" y1="404.46" x2="38.0" y2="404.46" class="tk"/>
<line x1="36.0" y1="396.91" x2="38.0" y2="396.91" class="tk"/>
<line x1="36.0" y1="391.05" x2="38.0" y2="391.05" class="tk"/>
<line x1="36.0" y1="386.26" x2="38.0" y2="386.26" class="tk"/>
<line x1="36.0" y1="382.21" x2="38.0" y2="382.21" class="tk"/>
<line x1="36.0" y1="378.71" x2="38.0" y2="378.71" class="tk"/>
<line x1="36.0" y1="375.62" x2="38.0" y2="375.62" class="tk"/>
<line x1="35.5" y1="372.85" x2="38.0" y2="372.85" class="tk"/>
<line x1="36.0" y1="354.65" x2="38.0" y2="354.65" class="tk"/>
<line x1="35.5" y1="344.01" x2="38.0" y2="344.01" class="tk"/>
<line x1="36.0" y1="336.46" x2="38.0" y2="336.46" class="tk"/>
<line x1="36.0" y1="330.60" x2="38.0" y2="330.60" class="tk"/>
<line x1="36.0" y1="325.81" x2="38.0" y2="325.81" class="tk"/>
<line x1="36.0" y1="321.76" x2="38.0" y2="321.76" class="tk"/>
<line x1="36.0" y1="318.26" x2="38.0" y2="318.26" class="tk"/>
<line x1="36.0" y1="315.17" x2="38.0" y2="315.17" class="tk"/>
<line x1="35.5" y1="312.40" x2="38.0" y2="312.40" class="tk"/>
<text x="34.3" y="315.60" class="tl" text-anchor="end" textLength="15.2" lengthAdjust="spacingAndGlyphs"><tspan class="h1">1</tspan>00</text>
<text x="34.3" y="347.21" class="tl" text-anchor="end">30</text>
<text x="34.3" y="376.05" class="tl" text-anchor="end"><tspan class="h1">1</tspan>0</text>
<text x="34.3" y="407.66" class="tl" text-anchor="end">3</text>
<text x="34.3" y="436.50" class="tl" text-anchor="end"><tspan class="h1">1</tspan></text>
<line x1="211.4" y1="311.9" x2="211.4" y2="433.8" class="axy"/>
<line x1="208.9" y1="433.30" x2="211.4" y2="433.30" class="tk"/>
<line x1="209.4" y1="415.10" x2="211.4" y2="415.10" class="tk"/>
<line x1="208.9" y1="404.46" x2="211.4" y2="404.46" class="tk"/>
<line x1="209.4" y1="396.91" x2="211.4" y2="396.91" class="tk"/>
<line x1="209.4" y1="391.05" x2="211.4" y2="391.05" class="tk"/>
<line x1="209.4" y1="386.26" x2="211.4" y2="386.26" class="tk"/>
<line x1="209.4" y1="382.21" x2="211.4" y2="382.21" class="tk"/>
<line x1="209.4" y1="378.71" x2="211.4" y2="378.71" class="tk"/>
<line x1="209.4" y1="375.62" x2="211.4" y2="375.62" class="tk"/>
<line x1="208.9" y1="372.85" x2="211.4" y2="372.85" class="tk"/>
<line x1="209.4" y1="354.65" x2="211.4" y2="354.65" class="tk"/>
<line x1="208.9" y1="344.01" x2="211.4" y2="344.01" class="tk"/>
<line x1="209.4" y1="336.46" x2="211.4" y2="336.46" class="tk"/>
<line x1="209.4" y1="330.60" x2="211.4" y2="330.60" class="tk"/>
<line x1="209.4" y1="325.81" x2="211.4" y2="325.81" class="tk"/>
<line x1="209.4" y1="321.76" x2="211.4" y2="321.76" class="tk"/>
<line x1="209.4" y1="318.26" x2="211.4" y2="318.26" class="tk"/>
<line x1="209.4" y1="315.17" x2="211.4" y2="315.17" class="tk"/>
<line x1="208.9" y1="312.40" x2="211.4" y2="312.40" class="tk"/>
<text x="207.70000000000002" y="315.60" class="tl" text-anchor="end" textLength="15.2" lengthAdjust="spacingAndGlyphs"><tspan class="h1">1</tspan>00</text>
<text x="207.70000000000002" y="347.21" class="tl" text-anchor="end">30</text>
<text x="207.70000000000002" y="376.05" class="tl" text-anchor="end"><tspan class="h1">1</tspan>0</text>
<text x="207.70000000000002" y="407.66" class="tl" text-anchor="end">3</text>
<text x="207.70000000000002" y="436.50" class="tl" text-anchor="end"><tspan class="h1">1</tspan></text>
<line x1="47.04" y1="443.0" x2="177.60" y2="443.0" class="ax"/>
<line x1="51.79" y1="443.0" x2="51.79" y2="445.0" class="tk"/>
<line x1="55.81" y1="443.0" x2="55.81" y2="445.0" class="tk"/>
<line x1="59.29" y1="443.0" x2="59.29" y2="445.0" class="tk"/>
<line x1="62.35" y1="443.0" x2="62.35" y2="445.0" class="tk"/>
<line x1="65.10" y1="443.0" x2="65.10" y2="445.0" class="tk"/>
<line x1="83.16" y1="443.0" x2="83.16" y2="445.0" class="tk"/>
<line x1="93.73" y1="443.0" x2="93.73" y2="445.0" class="tk"/>
<line x1="101.22" y1="443.0" x2="101.22" y2="445.0" class="tk"/>
<line x1="107.04" y1="443.0" x2="107.04" y2="445.0" class="tk"/>
<line x1="111.79" y1="443.0" x2="111.79" y2="445.0" class="tk"/>
<line x1="115.81" y1="443.0" x2="115.81" y2="445.0" class="tk"/>
<line x1="119.29" y1="443.0" x2="119.29" y2="445.0" class="tk"/>
<line x1="122.35" y1="443.0" x2="122.35" y2="445.0" class="tk"/>
<line x1="125.10" y1="443.0" x2="125.10" y2="445.0" class="tk"/>
<line x1="143.16" y1="443.0" x2="143.16" y2="445.0" class="tk"/>
<line x1="153.73" y1="443.0" x2="153.73" y2="445.0" class="tk"/>
<line x1="161.22" y1="443.0" x2="161.22" y2="445.0" class="tk"/>
<line x1="167.04" y1="443.0" x2="167.04" y2="445.0" class="tk"/>
<line x1="171.79" y1="443.0" x2="171.79" y2="445.0" class="tk"/>
<line x1="175.81" y1="443.0" x2="175.81" y2="445.0" class="tk"/>
<text x="66.20" y="455.50" class="tl" text-anchor="middle"><tspan class="h1">1</tspan></text>
<text x="94.83" y="455.50" class="tl" text-anchor="middle">3</text>
<text x="126.20" y="455.50" class="tl" text-anchor="middle"><tspan class="h1">1</tspan>0</text>
<text x="154.83" y="455.50" class="tl" text-anchor="middle">30</text>
<line x1="221.30" y1="443.0" x2="341.30" y2="443.0" class="ax"/>
<line x1="221.30" y1="443.0" x2="221.30" y2="445.0" class="tk"/>
<line x1="239.36" y1="443.0" x2="239.36" y2="445.0" class="tk"/>
<line x1="249.93" y1="443.0" x2="249.93" y2="445.0" class="tk"/>
<line x1="257.42" y1="443.0" x2="257.42" y2="445.0" class="tk"/>
<line x1="263.24" y1="443.0" x2="263.24" y2="445.0" class="tk"/>
<line x1="267.99" y1="443.0" x2="267.99" y2="445.0" class="tk"/>
<line x1="272.01" y1="443.0" x2="272.01" y2="445.0" class="tk"/>
<line x1="275.49" y1="443.0" x2="275.49" y2="445.0" class="tk"/>
<line x1="278.55" y1="443.0" x2="278.55" y2="445.0" class="tk"/>
<line x1="281.30" y1="443.0" x2="281.30" y2="445.0" class="tk"/>
<line x1="299.36" y1="443.0" x2="299.36" y2="445.0" class="tk"/>
<line x1="309.93" y1="443.0" x2="309.93" y2="445.0" class="tk"/>
<line x1="317.42" y1="443.0" x2="317.42" y2="445.0" class="tk"/>
<line x1="323.24" y1="443.0" x2="323.24" y2="445.0" class="tk"/>
<line x1="327.99" y1="443.0" x2="327.99" y2="445.0" class="tk"/>
<line x1="332.01" y1="443.0" x2="332.01" y2="445.0" class="tk"/>
<line x1="335.49" y1="443.0" x2="335.49" y2="445.0" class="tk"/>
<line x1="338.55" y1="443.0" x2="338.55" y2="445.0" class="tk"/>
<line x1="341.30" y1="443.0" x2="341.30" y2="445.0" class="tk"/>
<text x="220.60" y="455.50" class="tl" text-anchor="middle"><tspan class="h1">1</tspan></text>
<text x="249.23" y="455.50" class="tl" text-anchor="middle">3</text>
<text x="280.60" y="455.50" class="tl" text-anchor="middle"><tspan class="h1">1</tspan>0</text>
<text x="309.23" y="455.50" class="tl" text-anchor="middle">30</text>
<text x="340.60" y="455.50" class="tl" text-anchor="middle" textLength="15.2" lengthAdjust="spacingAndGlyphs"><tspan class="h1">1</tspan>00</text>
<polyline points="84.26,396.00 102.32,385.50 112.89,383.10 120.38,390.60 130.95,401.40" class="ln"/>
<polyline points="76.76,404.00 94.83,390.30 112.89,374.60 123.45,374.20 130.95,388.90 141.51,396.70" class="ln"/>
<polyline points="94.83,384.00 112.89,369.40 130.95,366.00 141.51,371.00 149.01,384.90 159.58,405.50" class="ln"/>
<line x1="94.83" y1="381.00" x2="94.83" y2="387.00" class="eb"/>
<line x1="93.03" y1="381.00" x2="96.63" y2="381.00" class="eb"/>
<line x1="93.03" y1="387.00" x2="96.63" y2="387.00" class="eb"/>
<circle cx="94.83" cy="384.00" r="1.55" class="mo"/>
<line x1="112.89" y1="366.20" x2="112.89" y2="372.60" class="eb"/>
<line x1="111.09" y1="366.20" x2="114.69" y2="366.20" class="eb"/>
<line x1="111.09" y1="372.60" x2="114.69" y2="372.60" class="eb"/>
<circle cx="112.89" cy="369.40" r="1.55" class="mo"/>
<line x1="130.95" y1="362.20" x2="130.95" y2="369.80" class="eb"/>
<line x1="129.15" y1="362.20" x2="132.75" y2="362.20" class="eb"/>
<line x1="129.15" y1="369.80" x2="132.75" y2="369.80" class="eb"/>
<circle cx="130.95" cy="366.00" r="1.55" class="mo"/>
<line x1="141.51" y1="367.40" x2="141.51" y2="374.60" class="eb"/>
<line x1="139.71" y1="367.40" x2="143.31" y2="367.40" class="eb"/>
<line x1="139.71" y1="374.60" x2="143.31" y2="374.60" class="eb"/>
<circle cx="141.51" cy="371.00" r="1.55" class="mo"/>
<line x1="149.01" y1="382.10" x2="149.01" y2="387.70" class="eb"/>
<line x1="147.21" y1="382.10" x2="150.81" y2="382.10" class="eb"/>
<line x1="147.21" y1="387.70" x2="150.81" y2="387.70" class="eb"/>
<circle cx="149.01" cy="384.90" r="1.55" class="mo"/>
<line x1="159.58" y1="402.70" x2="159.58" y2="408.30" class="eb"/>
<line x1="157.78" y1="402.70" x2="161.38" y2="402.70" class="eb"/>
<line x1="157.78" y1="408.30" x2="161.38" y2="408.30" class="eb"/>
<circle cx="159.58" cy="405.50" r="1.55" class="mo"/>
<line x1="76.76" y1="400.10" x2="76.76" y2="407.90" class="eb"/>
<line x1="74.96" y1="400.10" x2="78.56" y2="400.10" class="eb"/>
<line x1="74.96" y1="407.90" x2="78.56" y2="407.90" class="eb"/>
<polygon points="76.76,401.90 74.91,405.40 78.61,405.40" class="mo"/>
<line x1="94.83" y1="386.80" x2="94.83" y2="393.80" class="eb"/>
<line x1="93.03" y1="386.80" x2="96.63" y2="386.80" class="eb"/>
<line x1="93.03" y1="393.80" x2="96.63" y2="393.80" class="eb"/>
<polygon points="94.83,388.20 92.98,391.70 96.68,391.70" class="mo"/>
<line x1="112.89" y1="371.60" x2="112.89" y2="377.60" class="eb"/>
<line x1="111.09" y1="371.60" x2="114.69" y2="371.60" class="eb"/>
<line x1="111.09" y1="377.60" x2="114.69" y2="377.60" class="eb"/>
<polygon points="112.89,372.50 111.04,376.00 114.74,376.00" class="mo"/>
<line x1="123.45" y1="370.70" x2="123.45" y2="377.70" class="eb"/>
<line x1="121.65" y1="370.70" x2="125.25" y2="370.70" class="eb"/>
<line x1="121.65" y1="377.70" x2="125.25" y2="377.70" class="eb"/>
<polygon points="123.45,372.10 121.60,375.60 125.30,375.60" class="mo"/>
<line x1="130.95" y1="385.60" x2="130.95" y2="392.20" class="eb"/>
<line x1="129.15" y1="385.60" x2="132.75" y2="385.60" class="eb"/>
<line x1="129.15" y1="392.20" x2="132.75" y2="392.20" class="eb"/>
<polygon points="130.95,386.80 129.10,390.30 132.80,390.30" class="mo"/>
<line x1="141.51" y1="393.30" x2="141.51" y2="400.10" class="eb"/>
<line x1="139.71" y1="393.30" x2="143.31" y2="393.30" class="eb"/>
<line x1="139.71" y1="400.10" x2="143.31" y2="400.10" class="eb"/>
<polygon points="141.51,394.60 139.66,398.10 143.36,398.10" class="mo"/>
<line x1="84.26" y1="392.40" x2="84.26" y2="399.60" class="eb"/>
<line x1="82.46" y1="392.40" x2="86.06" y2="392.40" class="eb"/>
<line x1="82.46" y1="399.60" x2="86.06" y2="399.60" class="eb"/>
<polygon points="84.26,393.90 82.41,397.40 86.11,397.40" class="mf"/>
<line x1="102.32" y1="382.30" x2="102.32" y2="388.70" class="eb"/>
<line x1="100.52" y1="382.30" x2="104.12" y2="382.30" class="eb"/>
<line x1="100.52" y1="388.70" x2="104.12" y2="388.70" class="eb"/>
<polygon points="102.32,383.40 100.47,386.90 104.17,386.90" class="mf"/>
<line x1="112.89" y1="379.90" x2="112.89" y2="386.30" class="eb"/>
<line x1="111.09" y1="379.90" x2="114.69" y2="379.90" class="eb"/>
<line x1="111.09" y1="386.30" x2="114.69" y2="386.30" class="eb"/>
<polygon points="112.89,381.00 111.04,384.50 114.74,384.50" class="mf"/>
<line x1="120.38" y1="387.40" x2="120.38" y2="393.80" class="eb"/>
<line x1="118.58" y1="387.40" x2="122.18" y2="387.40" class="eb"/>
<line x1="118.58" y1="393.80" x2="122.18" y2="393.80" class="eb"/>
<polygon points="120.38,388.50 118.53,392.00 122.23,392.00" class="mf"/>
<line x1="130.95" y1="398.60" x2="130.95" y2="404.20" class="eb"/>
<line x1="129.15" y1="398.60" x2="132.75" y2="398.60" class="eb"/>
<line x1="129.15" y1="404.20" x2="132.75" y2="404.20" class="eb"/>
<polygon points="130.95,399.30 129.10,402.80 132.80,402.80" class="mf"/>
<polyline points="272.30,396.00 290.36,385.50 300.93,383.10 308.43,390.60 318.99,401.40" class="ln"/>
<polyline points="254.24,404.00 272.30,390.30 290.36,374.60 300.93,374.20 308.43,388.90 318.99,396.70" class="ln"/>
<polyline points="254.24,384.00 272.30,369.40 290.36,366.00 300.93,371.00 308.43,384.90 318.99,405.50" class="ln"/>
<line x1="254.24" y1="381.00" x2="254.24" y2="387.00" class="eb"/>
<line x1="252.44" y1="381.00" x2="256.04" y2="381.00" class="eb"/>
<line x1="252.44" y1="387.00" x2="256.04" y2="387.00" class="eb"/>
<circle cx="254.24" cy="384.00" r="1.55" class="mo"/>
<line x1="272.30" y1="366.20" x2="272.30" y2="372.60" class="eb"/>
<line x1="270.50" y1="366.20" x2="274.10" y2="366.20" class="eb"/>
<line x1="270.50" y1="372.60" x2="274.10" y2="372.60" class="eb"/>
<circle cx="272.30" cy="369.40" r="1.55" class="mo"/>
<line x1="290.36" y1="362.20" x2="290.36" y2="369.80" class="eb"/>
<line x1="288.56" y1="362.20" x2="292.16" y2="362.20" class="eb"/>
<line x1="288.56" y1="369.80" x2="292.16" y2="369.80" class="eb"/>
<circle cx="290.36" cy="366.00" r="1.55" class="mo"/>
<line x1="300.93" y1="367.40" x2="300.93" y2="374.60" class="eb"/>
<line x1="299.13" y1="367.40" x2="302.73" y2="367.40" class="eb"/>
<line x1="299.13" y1="374.60" x2="302.73" y2="374.60" class="eb"/>
<circle cx="300.93" cy="371.00" r="1.55" class="mo"/>
<line x1="308.43" y1="382.10" x2="308.43" y2="387.70" class="eb"/>
<line x1="306.63" y1="382.10" x2="310.23" y2="382.10" class="eb"/>
<line x1="306.63" y1="387.70" x2="310.23" y2="387.70" class="eb"/>
<circle cx="308.43" cy="384.90" r="1.55" class="mo"/>
<line x1="318.99" y1="402.70" x2="318.99" y2="408.30" class="eb"/>
<line x1="317.19" y1="402.70" x2="320.79" y2="402.70" class="eb"/>
<line x1="317.19" y1="408.30" x2="320.79" y2="408.30" class="eb"/>
<circle cx="318.99" cy="405.50" r="1.55" class="mo"/>
<line x1="254.24" y1="400.10" x2="254.24" y2="407.90" class="eb"/>
<line x1="252.44" y1="400.10" x2="256.04" y2="400.10" class="eb"/>
<line x1="252.44" y1="407.90" x2="256.04" y2="407.90" class="eb"/>
<polygon points="254.24,401.90 252.39,405.40 256.09,405.40" class="mo"/>
<line x1="272.30" y1="386.80" x2="272.30" y2="393.80" class="eb"/>
<line x1="270.50" y1="386.80" x2="274.10" y2="386.80" class="eb"/>
<line x1="270.50" y1="393.80" x2="274.10" y2="393.80" class="eb"/>
<polygon points="272.30,388.20 270.45,391.70 274.15,391.70" class="mo"/>
<line x1="290.36" y1="371.60" x2="290.36" y2="377.60" class="eb"/>
<line x1="288.56" y1="371.60" x2="292.16" y2="371.60" class="eb"/>
<line x1="288.56" y1="377.60" x2="292.16" y2="377.60" class="eb"/>
<polygon points="290.36,372.50 288.51,376.00 292.21,376.00" class="mo"/>
<line x1="300.93" y1="370.70" x2="300.93" y2="377.70" class="eb"/>
<line x1="299.13" y1="370.70" x2="302.73" y2="370.70" class="eb"/>
<line x1="299.13" y1="377.70" x2="302.73" y2="377.70" class="eb"/>
<polygon points="300.93,372.10 299.08,375.60 302.78,375.60" class="mo"/>
<line x1="308.43" y1="385.60" x2="308.43" y2="392.20" class="eb"/>
<line x1="306.63" y1="385.60" x2="310.23" y2="385.60" class="eb"/>
<line x1="306.63" y1="392.20" x2="310.23" y2="392.20" class="eb"/>
<polygon points="308.43,386.80 306.58,390.30 310.28,390.30" class="mo"/>
<line x1="318.99" y1="393.30" x2="318.99" y2="400.10" class="eb"/>
<line x1="317.19" y1="393.30" x2="320.79" y2="393.30" class="eb"/>
<line x1="317.19" y1="400.10" x2="320.79" y2="400.10" class="eb"/>
<polygon points="318.99,394.60 317.14,398.10 320.84,398.10" class="mo"/>
<line x1="272.30" y1="392.40" x2="272.30" y2="399.60" class="eb"/>
<line x1="270.50" y1="392.40" x2="274.10" y2="392.40" class="eb"/>
<line x1="270.50" y1="399.60" x2="274.10" y2="399.60" class="eb"/>
<polygon points="272.30,393.90 270.45,397.40 274.15,397.40" class="mf"/>
<line x1="290.36" y1="382.30" x2="290.36" y2="388.70" class="eb"/>
<line x1="288.56" y1="382.30" x2="292.16" y2="382.30" class="eb"/>
<line x1="288.56" y1="388.70" x2="292.16" y2="388.70" class="eb"/>
<polygon points="290.36,383.40 288.51,386.90 292.21,386.90" class="mf"/>
<line x1="300.93" y1="379.90" x2="300.93" y2="386.30" class="eb"/>
<line x1="299.13" y1="379.90" x2="302.73" y2="379.90" class="eb"/>
<line x1="299.13" y1="386.30" x2="302.73" y2="386.30" class="eb"/>
<polygon points="300.93,381.00 299.08,384.50 302.78,384.50" class="mf"/>
<line x1="308.43" y1="387.40" x2="308.43" y2="393.80" class="eb"/>
<line x1="306.63" y1="387.40" x2="310.23" y2="387.40" class="eb"/>
<line x1="306.63" y1="393.80" x2="310.23" y2="393.80" class="eb"/>
<polygon points="308.43,388.50 306.58,392.00 310.28,392.00" class="mf"/>
<line x1="318.99" y1="398.60" x2="318.99" y2="404.20" class="eb"/>
<line x1="317.19" y1="398.60" x2="320.79" y2="398.60" class="eb"/>
<line x1="317.19" y1="404.20" x2="320.79" y2="404.20" class="eb"/>
<polygon points="318.99,399.30 317.14,402.80 320.84,402.80" class="mf"/>
<line x1="38.0" y1="465.6" x2="38.0" y2="587.2" class="axy"/>
<line x1="35.5" y1="586.70" x2="38.0" y2="586.70" class="tk"/>
<line x1="36.0" y1="568.55" x2="38.0" y2="568.55" class="tk"/>
<line x1="35.5" y1="557.93" x2="38.0" y2="557.93" class="tk"/>
<line x1="36.0" y1="550.40" x2="38.0" y2="550.40" class="tk"/>
<line x1="36.0" y1="544.55" x2="38.0" y2="544.55" class="tk"/>
<line x1="36.0" y1="539.78" x2="38.0" y2="539.78" class="tk"/>
<line x1="36.0" y1="535.74" x2="38.0" y2="535.74" class="tk"/>
<line x1="36.0" y1="532.24" x2="38.0" y2="532.24" class="tk"/>
<line x1="36.0" y1="529.16" x2="38.0" y2="529.16" class="tk"/>
<line x1="35.5" y1="526.40" x2="38.0" y2="526.40" class="tk"/>
<line x1="36.0" y1="508.25" x2="38.0" y2="508.25" class="tk"/>
<line x1="35.5" y1="497.63" x2="38.0" y2="497.63" class="tk"/>
<line x1="36.0" y1="490.10" x2="38.0" y2="490.10" class="tk"/>
<line x1="36.0" y1="484.25" x2="38.0" y2="484.25" class="tk"/>
<line x1="36.0" y1="479.48" x2="38.0" y2="479.48" class="tk"/>
<line x1="36.0" y1="475.44" x2="38.0" y2="475.44" class="tk"/>
<line x1="36.0" y1="471.94" x2="38.0" y2="471.94" class="tk"/>
<line x1="36.0" y1="468.86" x2="38.0" y2="468.86" class="tk"/>
<line x1="35.5" y1="466.10" x2="38.0" y2="466.10" class="tk"/>
<text x="34.3" y="469.30" class="tl" text-anchor="end" textLength="15.2" lengthAdjust="spacingAndGlyphs"><tspan class="h1">1</tspan>00</text>
<text x="34.3" y="500.83" class="tl" text-anchor="end">30</text>
<text x="34.3" y="529.60" class="tl" text-anchor="end"><tspan class="h1">1</tspan>0</text>
<text x="34.3" y="561.13" class="tl" text-anchor="end">3</text>
<text x="34.3" y="589.90" class="tl" text-anchor="end"><tspan class="h1">1</tspan></text>
<line x1="211.4" y1="465.6" x2="211.4" y2="587.2" class="axy"/>
<line x1="208.9" y1="586.70" x2="211.4" y2="586.70" class="tk"/>
<line x1="209.4" y1="568.55" x2="211.4" y2="568.55" class="tk"/>
<line x1="208.9" y1="557.93" x2="211.4" y2="557.93" class="tk"/>
<line x1="209.4" y1="550.40" x2="211.4" y2="550.40" class="tk"/>
<line x1="209.4" y1="544.55" x2="211.4" y2="544.55" class="tk"/>
<line x1="209.4" y1="539.78" x2="211.4" y2="539.78" class="tk"/>
<line x1="209.4" y1="535.74" x2="211.4" y2="535.74" class="tk"/>
<line x1="209.4" y1="532.24" x2="211.4" y2="532.24" class="tk"/>
<line x1="209.4" y1="529.16" x2="211.4" y2="529.16" class="tk"/>
<line x1="208.9" y1="526.40" x2="211.4" y2="526.40" class="tk"/>
<line x1="209.4" y1="508.25" x2="211.4" y2="508.25" class="tk"/>
<line x1="208.9" y1="497.63" x2="211.4" y2="497.63" class="tk"/>
<line x1="209.4" y1="490.10" x2="211.4" y2="490.10" class="tk"/>
<line x1="209.4" y1="484.25" x2="211.4" y2="484.25" class="tk"/>
<line x1="209.4" y1="479.48" x2="211.4" y2="479.48" class="tk"/>
<line x1="209.4" y1="475.44" x2="211.4" y2="475.44" class="tk"/>
<line x1="209.4" y1="471.94" x2="211.4" y2="471.94" class="tk"/>
<line x1="209.4" y1="468.86" x2="211.4" y2="468.86" class="tk"/>
<line x1="208.9" y1="466.10" x2="211.4" y2="466.10" class="tk"/>
<text x="207.70000000000002" y="469.30" class="tl" text-anchor="end" textLength="15.2" lengthAdjust="spacingAndGlyphs"><tspan class="h1">1</tspan>00</text>
<text x="207.70000000000002" y="500.83" class="tl" text-anchor="end">30</text>
<text x="207.70000000000002" y="529.60" class="tl" text-anchor="end"><tspan class="h1">1</tspan>0</text>
<text x="207.70000000000002" y="561.13" class="tl" text-anchor="end">3</text>
<text x="207.70000000000002" y="589.90" class="tl" text-anchor="end"><tspan class="h1">1</tspan></text>
<line x1="47.04" y1="596.9" x2="177.60" y2="596.9" class="ax"/>
<line x1="51.79" y1="596.9" x2="51.79" y2="598.9" class="tk"/>
<line x1="55.81" y1="596.9" x2="55.81" y2="598.9" class="tk"/>
<line x1="59.29" y1="596.9" x2="59.29" y2="598.9" class="tk"/>
<line x1="62.35" y1="596.9" x2="62.35" y2="598.9" class="tk"/>
<line x1="65.10" y1="596.9" x2="65.10" y2="598.9" class="tk"/>
<line x1="83.16" y1="596.9" x2="83.16" y2="598.9" class="tk"/>
<line x1="93.73" y1="596.9" x2="93.73" y2="598.9" class="tk"/>
<line x1="101.22" y1="596.9" x2="101.22" y2="598.9" class="tk"/>
<line x1="107.04" y1="596.9" x2="107.04" y2="598.9" class="tk"/>
<line x1="111.79" y1="596.9" x2="111.79" y2="598.9" class="tk"/>
<line x1="115.81" y1="596.9" x2="115.81" y2="598.9" class="tk"/>
<line x1="119.29" y1="596.9" x2="119.29" y2="598.9" class="tk"/>
<line x1="122.35" y1="596.9" x2="122.35" y2="598.9" class="tk"/>
<line x1="125.10" y1="596.9" x2="125.10" y2="598.9" class="tk"/>
<line x1="143.16" y1="596.9" x2="143.16" y2="598.9" class="tk"/>
<line x1="153.73" y1="596.9" x2="153.73" y2="598.9" class="tk"/>
<line x1="161.22" y1="596.9" x2="161.22" y2="598.9" class="tk"/>
<line x1="167.04" y1="596.9" x2="167.04" y2="598.9" class="tk"/>
<line x1="171.79" y1="596.9" x2="171.79" y2="598.9" class="tk"/>
<line x1="175.81" y1="596.9" x2="175.81" y2="598.9" class="tk"/>
<text x="66.20" y="609.40" class="tl" text-anchor="middle"><tspan class="h1">1</tspan></text>
<text x="94.83" y="609.40" class="tl" text-anchor="middle">3</text>
<text x="126.20" y="609.40" class="tl" text-anchor="middle"><tspan class="h1">1</tspan>0</text>
<text x="154.83" y="609.40" class="tl" text-anchor="middle">30</text>
<line x1="221.30" y1="596.9" x2="341.30" y2="596.9" class="ax"/>
<line x1="221.30" y1="596.9" x2="221.30" y2="598.9" class="tk"/>
<line x1="239.36" y1="596.9" x2="239.36" y2="598.9" class="tk"/>
<line x1="249.93" y1="596.9" x2="249.93" y2="598.9" class="tk"/>
<line x1="257.42" y1="596.9" x2="257.42" y2="598.9" class="tk"/>
<line x1="263.24" y1="596.9" x2="263.24" y2="598.9" class="tk"/>
<line x1="267.99" y1="596.9" x2="267.99" y2="598.9" class="tk"/>
<line x1="272.01" y1="596.9" x2="272.01" y2="598.9" class="tk"/>
<line x1="275.49" y1="596.9" x2="275.49" y2="598.9" class="tk"/>
<line x1="278.55" y1="596.9" x2="278.55" y2="598.9" class="tk"/>
<line x1="281.30" y1="596.9" x2="281.30" y2="598.9" class="tk"/>
<line x1="299.36" y1="596.9" x2="299.36" y2="598.9" class="tk"/>
<line x1="309.93" y1="596.9" x2="309.93" y2="598.9" class="tk"/>
<line x1="317.42" y1="596.9" x2="317.42" y2="598.9" class="tk"/>
<line x1="323.24" y1="596.9" x2="323.24" y2="598.9" class="tk"/>
<line x1="327.99" y1="596.9" x2="327.99" y2="598.9" class="tk"/>
<line x1="332.01" y1="596.9" x2="332.01" y2="598.9" class="tk"/>
<line x1="335.49" y1="596.9" x2="335.49" y2="598.9" class="tk"/>
<line x1="338.55" y1="596.9" x2="338.55" y2="598.9" class="tk"/>
<line x1="341.30" y1="596.9" x2="341.30" y2="598.9" class="tk"/>
<text x="220.60" y="609.40" class="tl" text-anchor="middle"><tspan class="h1">1</tspan></text>
<text x="249.23" y="609.40" class="tl" text-anchor="middle">3</text>
<text x="280.60" y="609.40" class="tl" text-anchor="middle"><tspan class="h1">1</tspan>0</text>
<text x="309.23" y="609.40" class="tl" text-anchor="middle">30</text>
<text x="340.60" y="609.40" class="tl" text-anchor="middle" textLength="15.2" lengthAdjust="spacingAndGlyphs"><tspan class="h1">1</tspan>00</text>
<polyline points="84.26,573.80 102.32,549.50 112.89,545.80 120.38,542.20 130.95,556.20" class="ln"/>
<polyline points="94.83,554.20 112.89,536.50 130.95,530.20 141.51,537.80 149.01,547.70 159.58,555.60" class="ln"/>
<polyline points="112.89,538.40 130.95,526.40 141.51,525.00 149.01,517.50 159.58,526.40 167.07,527.50 177.64,555.60" class="ln"/>
<line x1="112.89" y1="535.20" x2="112.89" y2="541.60" class="eb"/>
<line x1="111.09" y1="535.20" x2="114.69" y2="535.20" class="eb"/>
<line x1="111.09" y1="541.60" x2="114.69" y2="541.60" class="eb"/>
<circle cx="112.89" cy="538.40" r="1.55" class="mo"/>
<line x1="130.95" y1="522.90" x2="130.95" y2="529.90" class="eb"/>
<line x1="129.15" y1="522.90" x2="132.75" y2="522.90" class="eb"/>
<line x1="129.15" y1="529.90" x2="132.75" y2="529.90" class="eb"/>
<circle cx="130.95" cy="526.40" r="1.55" class="mo"/>
<line x1="141.51" y1="522.00" x2="141.51" y2="528.00" class="eb"/>
<line x1="139.71" y1="522.00" x2="143.31" y2="522.00" class="eb"/>
<line x1="139.71" y1="528.00" x2="143.31" y2="528.00" class="eb"/>
<circle cx="141.51" cy="525.00" r="1.55" class="mo"/>
<line x1="149.01" y1="514.20" x2="149.01" y2="520.80" class="eb"/>
<line x1="147.21" y1="514.20" x2="150.81" y2="514.20" class="eb"/>
<line x1="147.21" y1="520.80" x2="150.81" y2="520.80" class="eb"/>
<circle cx="149.01" cy="517.50" r="1.55" class="mo"/>
<line x1="159.58" y1="523.10" x2="159.58" y2="529.70" class="eb"/>
<line x1="157.78" y1="523.10" x2="161.38" y2="523.10" class="eb"/>
<line x1="157.78" y1="529.70" x2="161.38" y2="529.70" class="eb"/>
<circle cx="159.58" cy="526.40" r="1.55" class="mo"/>
<line x1="167.07" y1="524.20" x2="167.07" y2="530.80" class="eb"/>
<line x1="165.27" y1="524.20" x2="168.87" y2="524.20" class="eb"/>
<line x1="165.27" y1="530.80" x2="168.87" y2="530.80" class="eb"/>
<circle cx="167.07" cy="527.50" r="1.55" class="mo"/>
<line x1="177.64" y1="553.10" x2="177.64" y2="558.10" class="eb"/>
<line x1="175.84" y1="553.10" x2="179.44" y2="553.10" class="eb"/>
<line x1="175.84" y1="558.10" x2="179.44" y2="558.10" class="eb"/>
<circle cx="177.64" cy="555.60" r="1.55" class="mo"/>
<line x1="94.83" y1="550.20" x2="94.83" y2="558.20" class="eb"/>
<line x1="93.03" y1="550.20" x2="96.63" y2="550.20" class="eb"/>
<line x1="93.03" y1="558.20" x2="96.63" y2="558.20" class="eb"/>
<polygon points="94.83,552.10 92.98,555.60 96.68,555.60" class="mo"/>
<line x1="112.89" y1="533.00" x2="112.89" y2="540.00" class="eb"/>
<line x1="111.09" y1="533.00" x2="114.69" y2="533.00" class="eb"/>
<line x1="111.09" y1="540.00" x2="114.69" y2="540.00" class="eb"/>
<polygon points="112.89,534.40 111.04,537.90 114.74,537.90" class="mo"/>
<line x1="130.95" y1="526.60" x2="130.95" y2="533.80" class="eb"/>
<line x1="129.15" y1="526.60" x2="132.75" y2="526.60" class="eb"/>
<line x1="129.15" y1="533.80" x2="132.75" y2="533.80" class="eb"/>
<polygon points="130.95,528.10 129.10,531.60 132.80,531.60" class="mo"/>
<line x1="141.51" y1="534.30" x2="141.51" y2="541.30" class="eb"/>
<line x1="139.71" y1="534.30" x2="143.31" y2="534.30" class="eb"/>
<line x1="139.71" y1="541.30" x2="143.31" y2="541.30" class="eb"/>
<polygon points="141.51,535.70 139.66,539.20 143.36,539.20" class="mo"/>
<line x1="149.01" y1="544.40" x2="149.01" y2="551.00" class="eb"/>
<line x1="147.21" y1="544.40" x2="150.81" y2="544.40" class="eb"/>
<line x1="147.21" y1="551.00" x2="150.81" y2="551.00" class="eb"/>
<polygon points="149.01,545.60 147.16,549.10 150.86,549.10" class="mo"/>
<line x1="159.58" y1="553.10" x2="159.58" y2="558.10" class="eb"/>
<line x1="157.78" y1="553.10" x2="161.38" y2="553.10" class="eb"/>
<line x1="157.78" y1="558.10" x2="161.38" y2="558.10" class="eb"/>
<polygon points="159.58,553.50 157.73,557.00 161.43,557.00" class="mo"/>
<line x1="84.26" y1="568.90" x2="84.26" y2="578.70" class="eb"/>
<line x1="82.46" y1="568.90" x2="86.06" y2="568.90" class="eb"/>
<line x1="82.46" y1="578.70" x2="86.06" y2="578.70" class="eb"/>
<polygon points="84.26,571.70 82.41,575.20 86.11,575.20" class="mf"/>
<line x1="102.32" y1="545.50" x2="102.32" y2="553.50" class="eb"/>
<line x1="100.52" y1="545.50" x2="104.12" y2="545.50" class="eb"/>
<line x1="100.52" y1="553.50" x2="104.12" y2="553.50" class="eb"/>
<polygon points="102.32,547.40 100.47,550.90 104.17,550.90" class="mf"/>
<line x1="112.89" y1="542.40" x2="112.89" y2="549.20" class="eb"/>
<line x1="111.09" y1="542.40" x2="114.69" y2="542.40" class="eb"/>
<line x1="111.09" y1="549.20" x2="114.69" y2="549.20" class="eb"/>
<polygon points="112.89,543.70 111.04,547.20 114.74,547.20" class="mf"/>
<line x1="120.38" y1="538.40" x2="120.38" y2="546.00" class="eb"/>
<line x1="118.58" y1="538.40" x2="122.18" y2="538.40" class="eb"/>
<line x1="118.58" y1="546.00" x2="122.18" y2="546.00" class="eb"/>
<polygon points="120.38,540.10 118.53,543.60 122.23,543.60" class="mf"/>
<line x1="130.95" y1="551.70" x2="130.95" y2="560.70" class="eb"/>
<line x1="129.15" y1="551.70" x2="132.75" y2="551.70" class="eb"/>
<line x1="129.15" y1="560.70" x2="132.75" y2="560.70" class="eb"/>
<polygon points="130.95,554.10 129.10,557.60 132.80,557.60" class="mf"/>
<polyline points="272.70,573.80 290.76,549.50 301.33,545.80 308.83,542.20 319.39,556.20" class="ln"/>
<polyline points="272.70,554.20 290.76,536.50 308.83,530.20 319.39,537.80 326.89,547.70 337.45,555.60" class="ln"/>
<polyline points="272.70,538.40 290.76,526.40 301.33,525.00 308.83,517.50 319.39,526.40 326.89,527.50 337.45,555.60" class="ln"/>
<line x1="272.70" y1="535.20" x2="272.70" y2="541.60" class="eb"/>
<line x1="270.90" y1="535.20" x2="274.50" y2="535.20" class="eb"/>
<line x1="270.90" y1="541.60" x2="274.50" y2="541.60" class="eb"/>
<circle cx="272.70" cy="538.40" r="1.55" class="mo"/>
<line x1="290.76" y1="522.90" x2="290.76" y2="529.90" class="eb"/>
<line x1="288.96" y1="522.90" x2="292.56" y2="522.90" class="eb"/>
<line x1="288.96" y1="529.90" x2="292.56" y2="529.90" class="eb"/>
<circle cx="290.76" cy="526.40" r="1.55" class="mo"/>
<line x1="301.33" y1="522.00" x2="301.33" y2="528.00" class="eb"/>
<line x1="299.53" y1="522.00" x2="303.13" y2="522.00" class="eb"/>
<line x1="299.53" y1="528.00" x2="303.13" y2="528.00" class="eb"/>
<circle cx="301.33" cy="525.00" r="1.55" class="mo"/>
<line x1="308.83" y1="514.20" x2="308.83" y2="520.80" class="eb"/>
<line x1="307.03" y1="514.20" x2="310.63" y2="514.20" class="eb"/>
<line x1="307.03" y1="520.80" x2="310.63" y2="520.80" class="eb"/>
<circle cx="308.83" cy="517.50" r="1.55" class="mo"/>
<line x1="319.39" y1="523.10" x2="319.39" y2="529.70" class="eb"/>
<line x1="317.59" y1="523.10" x2="321.19" y2="523.10" class="eb"/>
<line x1="317.59" y1="529.70" x2="321.19" y2="529.70" class="eb"/>
<circle cx="319.39" cy="526.40" r="1.55" class="mo"/>
<line x1="326.89" y1="524.20" x2="326.89" y2="530.80" class="eb"/>
<line x1="325.09" y1="524.20" x2="328.69" y2="524.20" class="eb"/>
<line x1="325.09" y1="530.80" x2="328.69" y2="530.80" class="eb"/>
<circle cx="326.89" cy="527.50" r="1.55" class="mo"/>
<line x1="337.45" y1="553.10" x2="337.45" y2="558.10" class="eb"/>
<line x1="335.65" y1="553.10" x2="339.25" y2="553.10" class="eb"/>
<line x1="335.65" y1="558.10" x2="339.25" y2="558.10" class="eb"/>
<circle cx="337.45" cy="555.60" r="1.55" class="mo"/>
<line x1="272.70" y1="550.20" x2="272.70" y2="558.20" class="eb"/>
<line x1="270.90" y1="550.20" x2="274.50" y2="550.20" class="eb"/>
<line x1="270.90" y1="558.20" x2="274.50" y2="558.20" class="eb"/>
<polygon points="272.70,552.10 270.85,555.60 274.55,555.60" class="mo"/>
<line x1="290.76" y1="533.00" x2="290.76" y2="540.00" class="eb"/>
<line x1="288.96" y1="533.00" x2="292.56" y2="533.00" class="eb"/>
<line x1="288.96" y1="540.00" x2="292.56" y2="540.00" class="eb"/>
<polygon points="290.76,534.40 288.91,537.90 292.61,537.90" class="mo"/>
<line x1="308.83" y1="526.60" x2="308.83" y2="533.80" class="eb"/>
<line x1="307.03" y1="526.60" x2="310.63" y2="526.60" class="eb"/>
<line x1="307.03" y1="533.80" x2="310.63" y2="533.80" class="eb"/>
<polygon points="308.83,528.10 306.98,531.60 310.68,531.60" class="mo"/>
<line x1="319.39" y1="534.30" x2="319.39" y2="541.30" class="eb"/>
<line x1="317.59" y1="534.30" x2="321.19" y2="534.30" class="eb"/>
<line x1="317.59" y1="541.30" x2="321.19" y2="541.30" class="eb"/>
<polygon points="319.39,535.70 317.54,539.20 321.24,539.20" class="mo"/>
<line x1="326.89" y1="544.40" x2="326.89" y2="551.00" class="eb"/>
<line x1="325.09" y1="544.40" x2="328.69" y2="544.40" class="eb"/>
<line x1="325.09" y1="551.00" x2="328.69" y2="551.00" class="eb"/>
<polygon points="326.89,545.60 325.04,549.10 328.74,549.10" class="mo"/>
<line x1="337.45" y1="553.10" x2="337.45" y2="558.10" class="eb"/>
<line x1="335.65" y1="553.10" x2="339.25" y2="553.10" class="eb"/>
<line x1="335.65" y1="558.10" x2="339.25" y2="558.10" class="eb"/>
<polygon points="337.45,553.50 335.60,557.00 339.30,557.00" class="mo"/>
<line x1="272.70" y1="568.90" x2="272.70" y2="578.70" class="eb"/>
<line x1="270.90" y1="568.90" x2="274.50" y2="568.90" class="eb"/>
<line x1="270.90" y1="578.70" x2="274.50" y2="578.70" class="eb"/>
<polygon points="272.70,571.70 270.85,575.20 274.55,575.20" class="mf"/>
<line x1="290.76" y1="545.50" x2="290.76" y2="553.50" class="eb"/>
<line x1="288.96" y1="545.50" x2="292.56" y2="545.50" class="eb"/>
<line x1="288.96" y1="553.50" x2="292.56" y2="553.50" class="eb"/>
<polygon points="290.76,547.40 288.91,550.90 292.61,550.90" class="mf"/>
<line x1="301.33" y1="542.40" x2="301.33" y2="549.20" class="eb"/>
<line x1="299.53" y1="542.40" x2="303.13" y2="542.40" class="eb"/>
<line x1="299.53" y1="549.20" x2="303.13" y2="549.20" class="eb"/>
<polygon points="301.33,543.70 299.48,547.20 303.18,547.20" class="mf"/>
<line x1="308.83" y1="538.40" x2="308.83" y2="546.00" class="eb"/>
<line x1="307.03" y1="538.40" x2="310.63" y2="538.40" class="eb"/>
<line x1="307.03" y1="546.00" x2="310.63" y2="546.00" class="eb"/>
<polygon points="308.83,540.10 306.98,543.60 310.68,543.60" class="mf"/>
<line x1="319.39" y1="551.70" x2="319.39" y2="560.70" class="eb"/>
<line x1="317.59" y1="551.70" x2="321.19" y2="551.70" class="eb"/>
<line x1="317.59" y1="560.70" x2="321.19" y2="560.70" class="eb"/>
<polygon points="319.39,554.10 317.54,557.60 321.24,557.60" class="mf"/>
<text x="49" y="9.4" class="pl">A</text>
<text x="220.7" y="9.4" class="pl">B</text>
<text x="48.5" y="162.9" class="pl">C</text>
<text x="219.6" y="163.2" class="pl">D</text>
<text x="48.5" y="316.5" class="pl">E</text>
<text x="220.9" y="316.5" class="pl">F</text>
<text x="48.6" y="469.8" class="pl">G</text>
<text x="220.5" y="469.8" class="pl">H</text>
<text x="49" y="23.3" class="tt">IR, (anisometropic amblyope)</text>
<text x="49" y="33.9" class="tt">Fellow eye</text>
<text x="50.4" y="176.3" class="tt">Amblyopic eye</text>
<text x="49.8" y="330.2" class="tt" style="font-size:9.6px">TX (strabismic amblyope)</text>
<text x="49" y="340.9" class="tt">Fellow eye</text>
<text x="50.2" y="484.4" class="tt">Amblyopic eye</text>
<text x="317" y="101.4" class="tt"><tspan style="font-style:normal">Δ</tspan>t</text>
<text x="315.8" y="112.20" class="tt"><tspan class="h1">1</tspan>9 ms</text>
<circle cx="310.2" cy="109.20" r="1.5" class="mo"/>
<text x="315.8" y="122.50" class="tt">38 ms</text>
<polygon points="310.2,117.50 308.4,120.70 312,120.70" class="mo"/>
<text x="315.8" y="132.80" class="tt">57 ms</text>
<polygon points="310.2,127.80 308.4,131.00 312,131.00" class="mf"/>
<text transform="translate(8.0,300) rotate(-90)" class="tt" style="font-size:9.62px" text-anchor="middle">Motion sensitivity (<tspan class="h1">1</tspan>/coherence)</text>
<text x="116" y="620.9" class="tt" style="font-size:9.8px" text-anchor="middle">Speed (deg/s)</text>
<text x="286" y="621.4" class="tt" style="font-size:9.65px" text-anchor="middle">Displacement (min)</text>
<path transform="translate(19.10,9.20) scale(0.004785,-0.004785)" d="M412,0L650,1223L289,1000L324,1180L701,1409L867,1409L593,0Z" class="g1"/>
<path transform="translate(23.39,68.85) scale(0.004785,-0.004785)" d="M412,0L650,1223L289,1000L324,1180L701,1409L867,1409L593,0Z" class="g1"/>
<path transform="translate(28.85,128.50) scale(0.004785,-0.004785)" d="M412,0L650,1223L289,1000L324,1180L701,1409L867,1409L593,0Z" class="g1"/>
<path transform="translate(192.50,9.20) scale(0.004785,-0.004785)" d="M412,0L650,1223L289,1000L324,1180L701,1409L867,1409L593,0Z" class="g1"/>
<path transform="translate(196.79,68.85) scale(0.004785,-0.004785)" d="M412,0L650,1223L289,1000L324,1180L701,1409L867,1409L593,0Z" class="g1"/>
<path transform="translate(202.25,128.50) scale(0.004785,-0.004785)" d="M412,0L650,1223L289,1000L324,1180L701,1409L867,1409L593,0Z" class="g1"/>
<path transform="translate(64.07,148.10) scale(0.004785,-0.004785)" d="M412,0L650,1223L289,1000L324,1180L701,1409L867,1409L593,0Z" class="g1"/>
<path transform="translate(121.35,148.10) scale(0.004785,-0.004785)" d="M412,0L650,1223L289,1000L324,1180L701,1409L867,1409L593,0Z" class="g1"/>
<path transform="translate(217.87,148.10) scale(0.004785,-0.004785)" d="M412,0L650,1223L289,1000L324,1180L701,1409L867,1409L593,0Z" class="g1"/>
<path transform="translate(275.15,148.10) scale(0.004785,-0.004785)" d="M412,0L650,1223L289,1000L324,1180L701,1409L867,1409L593,0Z" class="g1"/>
<path transform="translate(333.00,148.10) scale(0.004785,-0.004785)" d="M412,0L650,1223L289,1000L324,1180L701,1409L867,1409L593,0Z" class="g1"/>
<path transform="translate(19.10,162.50) scale(0.004785,-0.004785)" d="M412,0L650,1223L289,1000L324,1180L701,1409L867,1409L593,0Z" class="g1"/>
<path transform="translate(23.39,222.05) scale(0.004785,-0.004785)" d="M412,0L650,1223L289,1000L324,1180L701,1409L867,1409L593,0Z" class="g1"/>
<path transform="translate(28.85,281.60) scale(0.004785,-0.004785)" d="M412,0L650,1223L289,1000L324,1180L701,1409L867,1409L593,0Z" class="g1"/>
<path transform="translate(192.50,162.50) scale(0.004785,-0.004785)" d="M412,0L650,1223L289,1000L324,1180L701,1409L867,1409L593,0Z" class="g1"/>
<path transform="translate(196.79,222.05) scale(0.004785,-0.004785)" d="M412,0L650,1223L289,1000L324,1180L701,1409L867,1409L593,0Z" class="g1"/>
<path transform="translate(202.25,281.60) scale(0.004785,-0.004785)" d="M412,0L650,1223L289,1000L324,1180L701,1409L867,1409L593,0Z" class="g1"/>
<path transform="translate(63.47,301.80) scale(0.004785,-0.004785)" d="M412,0L650,1223L289,1000L324,1180L701,1409L867,1409L593,0Z" class="g1"/>
<path transform="translate(120.75,301.80) scale(0.004785,-0.004785)" d="M412,0L650,1223L289,1000L324,1180L701,1409L867,1409L593,0Z" class="g1"/>
<path transform="translate(217.87,301.80) scale(0.004785,-0.004785)" d="M412,0L650,1223L289,1000L324,1180L701,1409L867,1409L593,0Z" class="g1"/>
<path transform="translate(275.15,301.80) scale(0.004785,-0.004785)" d="M412,0L650,1223L289,1000L324,1180L701,1409L867,1409L593,0Z" class="g1"/>
<path transform="translate(333.00,301.80) scale(0.004785,-0.004785)" d="M412,0L650,1223L289,1000L324,1180L701,1409L867,1409L593,0Z" class="g1"/>
<path transform="translate(19.10,315.60) scale(0.004785,-0.004785)" d="M412,0L650,1223L289,1000L324,1180L701,1409L867,1409L593,0Z" class="g1"/>
<path transform="translate(23.39,376.05) scale(0.004785,-0.004785)" d="M412,0L650,1223L289,1000L324,1180L701,1409L867,1409L593,0Z" class="g1"/>
<path transform="translate(28.85,436.50) scale(0.004785,-0.004785)" d="M412,0L650,1223L289,1000L324,1180L701,1409L867,1409L593,0Z" class="g1"/>
<path transform="translate(192.50,315.60) scale(0.004785,-0.004785)" d="M412,0L650,1223L289,1000L324,1180L701,1409L867,1409L593,0Z" class="g1"/>
<path transform="translate(196.79,376.05) scale(0.004785,-0.004785)" d="M412,0L650,1223L289,1000L324,1180L701,1409L867,1409L593,0Z" class="g1"/>
<path transform="translate(202.25,436.50) scale(0.004785,-0.004785)" d="M412,0L650,1223L289,1000L324,1180L701,1409L867,1409L593,0Z" class="g1"/>
<path transform="translate(63.47,455.50) scale(0.004785,-0.004785)" d="M412,0L650,1223L289,1000L324,1180L701,1409L867,1409L593,0Z" class="g1"/>
<path transform="translate(120.75,455.50) scale(0.004785,-0.004785)" d="M412,0L650,1223L289,1000L324,1180L701,1409L867,1409L593,0Z" class="g1"/>
<path transform="translate(217.87,455.50) scale(0.004785,-0.004785)" d="M412,0L650,1223L289,1000L324,1180L701,1409L867,1409L593,0Z" class="g1"/>
<path transform="translate(275.15,455.50) scale(0.004785,-0.004785)" d="M412,0L650,1223L289,1000L324,1180L701,1409L867,1409L593,0Z" class="g1"/>
<path transform="translate(333.00,455.50) scale(0.004785,-0.004785)" d="M412,0L650,1223L289,1000L324,1180L701,1409L867,1409L593,0Z" class="g1"/>
<path transform="translate(19.10,469.30) scale(0.004785,-0.004785)" d="M412,0L650,1223L289,1000L324,1180L701,1409L867,1409L593,0Z" class="g1"/>
<path transform="translate(23.39,529.60) scale(0.004785,-0.004785)" d="M412,0L650,1223L289,1000L324,1180L701,1409L867,1409L593,0Z" class="g1"/>
<path transform="translate(28.85,589.90) scale(0.004785,-0.004785)" d="M412,0L650,1223L289,1000L324,1180L701,1409L867,1409L593,0Z" class="g1"/>
<path transform="translate(192.50,469.30) scale(0.004785,-0.004785)" d="M412,0L650,1223L289,1000L324,1180L701,1409L867,1409L593,0Z" class="g1"/>
<path transform="translate(196.79,529.60) scale(0.004785,-0.004785)" d="M412,0L650,1223L289,1000L324,1180L701,1409L867,1409L593,0Z" class="g1"/>
<path transform="translate(202.25,589.90) scale(0.004785,-0.004785)" d="M412,0L650,1223L289,1000L324,1180L701,1409L867,1409L593,0Z" class="g1"/>
<path transform="translate(63.47,609.40) scale(0.004785,-0.004785)" d="M412,0L650,1223L289,1000L324,1180L701,1409L867,1409L593,0Z" class="g1"/>
<path transform="translate(120.75,609.40) scale(0.004785,-0.004785)" d="M412,0L650,1223L289,1000L324,1180L701,1409L867,1409L593,0Z" class="g1"/>
<path transform="translate(217.87,609.40) scale(0.004785,-0.004785)" d="M412,0L650,1223L289,1000L324,1180L701,1409L867,1409L593,0Z" class="g1"/>
<path transform="translate(275.15,609.40) scale(0.004785,-0.004785)" d="M412,0L650,1223L289,1000L324,1180L701,1409L867,1409L593,0Z" class="g1"/>
<path transform="translate(333.00,609.40) scale(0.004785,-0.004785)" d="M412,0L650,1223L289,1000L324,1180L701,1409L867,1409L593,0Z" class="g1"/>
<path transform="translate(315.80,112.20) scale(0.004663,-0.004663)" d="M412,0L650,1223L289,1000L324,1180L701,1409L867,1409L593,0Z" class="g1"/>
<path transform="translate(8.0,300) rotate(-90) translate(11.47,0.00) scale(0.004697,-0.004697)" d="M412,0L650,1223L289,1000L324,1180L701,1409L867,1409L593,0Z" class="g1"/>
</svg></body></html>
